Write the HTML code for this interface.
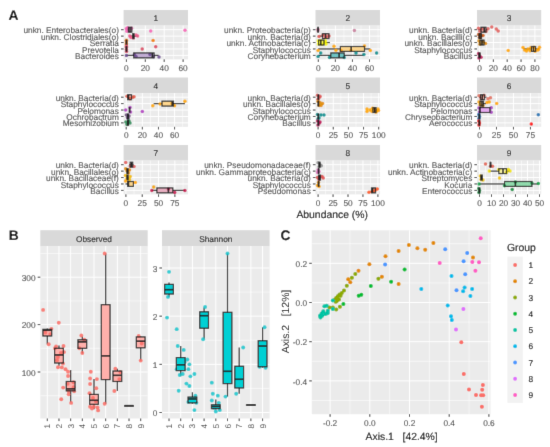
<!DOCTYPE html><html><head><meta charset="utf-8"><style>html,body{margin:0;padding:0;background:#fff;width:550px;height:447px;overflow:hidden}svg{display:block;will-change:transform}text{font-family:"Liberation Sans",sans-serif;text-rendering:geometricPrecision}</style></head><body>
<svg width="550" height="447" viewBox="0 0 550 447"><defs><filter id="soft" x="0" y="0" width="550" height="447" filterUnits="userSpaceOnUse"><feConvolveMatrix order="3" kernelMatrix="0 1 0 1 8 1 0 1 0" divisor="12" edgeMode="duplicate"/></filter></defs><g filter="url(#soft)">
<rect x="0" y="0" width="550" height="447" fill="#FFFFFF" />
<text x="8.6" y="19.6" font-size="13.8" fill="#000000" stroke="#000000" stroke-width="0.12" text-anchor="start" font-weight="bold" >A</text>
<rect x="123.6" y="10" width="64.4" height="15.6" fill="#D9D9D9" />
<text x="155.8" y="21.4" font-size="8.3" fill="#1A1A1A" stroke="#1A1A1A" stroke-width="0.12" text-anchor="middle" font-weight="normal" >1</text>
<rect x="123.6" y="25.6" width="64.4" height="33.75" fill="#EBEBEB" />
<line x1="135.85" y1="25.6" x2="135.85" y2="59.35" stroke="#FFFFFF" stroke-width="0.55" />
<line x1="154.75" y1="25.6" x2="154.75" y2="59.35" stroke="#FFFFFF" stroke-width="0.55" />
<line x1="173.65" y1="25.6" x2="173.65" y2="59.35" stroke="#FFFFFF" stroke-width="0.55" />
<line x1="123.6" y1="29.7" x2="188" y2="29.7" stroke="#FFFFFF" stroke-width="1.0" />
<line x1="123.6" y1="36.12" x2="188" y2="36.12" stroke="#FFFFFF" stroke-width="1.0" />
<line x1="123.6" y1="42.54" x2="188" y2="42.54" stroke="#FFFFFF" stroke-width="1.0" />
<line x1="123.6" y1="48.96" x2="188" y2="48.96" stroke="#FFFFFF" stroke-width="1.0" />
<line x1="123.6" y1="55.38" x2="188" y2="55.38" stroke="#FFFFFF" stroke-width="1.0" />
<line x1="126.4" y1="25.6" x2="126.4" y2="59.35" stroke="#FFFFFF" stroke-width="1.0" />
<line x1="145.3" y1="25.6" x2="145.3" y2="59.35" stroke="#FFFFFF" stroke-width="1.0" />
<line x1="164.2" y1="25.6" x2="164.2" y2="59.35" stroke="#FFFFFF" stroke-width="1.0" />
<line x1="183.1" y1="25.6" x2="183.1" y2="59.35" stroke="#FFFFFF" stroke-width="1.0" />
<line x1="126.4" y1="59.35" x2="126.4" y2="61.95" stroke="#333333" stroke-width="1.0" />
<text x="126.4" y="70.7" font-size="8.3" fill="#4D4D4D" stroke="#4D4D4D" stroke-width="0.12" text-anchor="middle" font-weight="normal" >0</text>
<line x1="145.3" y1="59.35" x2="145.3" y2="61.95" stroke="#333333" stroke-width="1.0" />
<text x="145.3" y="70.7" font-size="8.3" fill="#4D4D4D" stroke="#4D4D4D" stroke-width="0.12" text-anchor="middle" font-weight="normal" >20</text>
<line x1="164.2" y1="59.35" x2="164.2" y2="61.95" stroke="#333333" stroke-width="1.0" />
<text x="164.2" y="70.7" font-size="8.3" fill="#4D4D4D" stroke="#4D4D4D" stroke-width="0.12" text-anchor="middle" font-weight="normal" >40</text>
<line x1="183.1" y1="59.35" x2="183.1" y2="61.95" stroke="#333333" stroke-width="1.0" />
<text x="183.1" y="70.7" font-size="8.3" fill="#4D4D4D" stroke="#4D4D4D" stroke-width="0.12" text-anchor="middle" font-weight="normal" >60</text>
<line x1="121" y1="29.7" x2="123.6" y2="29.7" stroke="#333333" stroke-width="1.0" />
<text x="118.9" y="33.3" font-size="8.3" fill="#4D4D4D" stroke="#4D4D4D" stroke-width="0.12" text-anchor="end" font-weight="normal" >unkn. Enterobacterales(o)</text>
<line x1="121" y1="36.12" x2="123.6" y2="36.12" stroke="#333333" stroke-width="1.0" />
<text x="118.9" y="39.72" font-size="8.3" fill="#4D4D4D" stroke="#4D4D4D" stroke-width="0.12" text-anchor="end" font-weight="normal" >unkn. Clostridiales(o)</text>
<line x1="121" y1="42.54" x2="123.6" y2="42.54" stroke="#333333" stroke-width="1.0" />
<text x="118.9" y="46.14" font-size="8.3" fill="#4D4D4D" stroke="#4D4D4D" stroke-width="0.12" text-anchor="end" font-weight="normal" >Serratia</text>
<line x1="121" y1="48.96" x2="123.6" y2="48.96" stroke="#333333" stroke-width="1.0" />
<text x="118.9" y="52.56" font-size="8.3" fill="#4D4D4D" stroke="#4D4D4D" stroke-width="0.12" text-anchor="end" font-weight="normal" >Prevotella</text>
<line x1="121" y1="55.38" x2="123.6" y2="55.38" stroke="#333333" stroke-width="1.0" />
<text x="118.9" y="58.98" font-size="8.3" fill="#4D4D4D" stroke="#4D4D4D" stroke-width="0.12" text-anchor="end" font-weight="normal" >Bacteroides</text>
<line x1="127.5" y1="29.7" x2="128.4" y2="29.7" stroke="#333333" stroke-width="1.2" />
<line x1="131.8" y1="29.7" x2="132.2" y2="29.7" stroke="#333333" stroke-width="1.2" />
<rect x="128.4" y="27.25" width="3.4" height="4.9" fill="#F0A0CC" fill-opacity="0.7"/>
<circle cx="126.3" cy="28.7" r="1.75" fill="#F563B5" fill-opacity="0.88"/>
<circle cx="126.8" cy="31.2" r="1.75" fill="#F563B5" fill-opacity="0.88"/>
<circle cx="127.5" cy="27.7" r="1.75" fill="#F563B5" fill-opacity="0.88"/>
<circle cx="131.5" cy="28.2" r="1.75" fill="#F563B5" fill-opacity="0.88"/>
<circle cx="150.7" cy="31" r="1.75" fill="#F563B5" fill-opacity="0.88"/>
<circle cx="185" cy="30.2" r="1.75" fill="#F563B5" fill-opacity="0.88"/>
<rect x="128.4" y="27.25" width="3.4" height="4.9" fill="none" stroke="#262626" stroke-opacity="0.95" stroke-width="1.2"/>
<line x1="130" y1="27.25" x2="130" y2="32.15" stroke="#222222" stroke-width="1.5" />
<line x1="129.5" y1="36.12" x2="132.8" y2="36.12" stroke="#333333" stroke-width="1.2" />
<line x1="134" y1="36.12" x2="138" y2="36.12" stroke="#333333" stroke-width="1.2" />
<rect x="132.8" y="33.67" width="1.2" height="4.9" fill="#EE8FAF" fill-opacity="0.7"/>
<circle cx="129.8" cy="36.12" r="1.75" fill="#EE5C8A" fill-opacity="0.88"/>
<circle cx="131" cy="37.62" r="1.75" fill="#EE5C8A" fill-opacity="0.88"/>
<circle cx="133.4" cy="38.12" r="1.75" fill="#EE5C8A" fill-opacity="0.88"/>
<circle cx="137.6" cy="36.12" r="1.75" fill="#EE5C8A" fill-opacity="0.88"/>
<circle cx="136" cy="35.12" r="1.75" fill="#EE5C8A" fill-opacity="0.88"/>
<rect x="132.8" y="33.67" width="1.2" height="4.9" fill="none" stroke="#262626" stroke-opacity="0.95" stroke-width="1.2"/>
<line x1="133.4" y1="33.67" x2="133.4" y2="38.57" stroke="#222222" stroke-width="1.5" />
<line x1="126.4" y1="42.54" x2="126.4" y2="42.54" stroke="#333333" stroke-width="1.2" />
<line x1="126.4" y1="42.54" x2="126.4" y2="42.54" stroke="#333333" stroke-width="1.2" />
<rect x="126.4" y="40.09" width="0.3" height="4.9" fill="#F5A040" fill-opacity="0.7"/>
<circle cx="126.4" cy="40.34" r="1.75" fill="#F07B00" fill-opacity="0.88"/>
<circle cx="126.4" cy="42.04" r="1.75" fill="#F07B00" fill-opacity="0.88"/>
<circle cx="126.4" cy="43.74" r="1.75" fill="#F07B00" fill-opacity="0.88"/>
<circle cx="126.4" cy="45.04" r="1.75" fill="#F07B00" fill-opacity="0.88"/>
<circle cx="153.1" cy="40.54" r="1.75" fill="#F07B00" fill-opacity="0.88"/>
<rect x="126.4" y="40.09" width="0.3" height="4.9" fill="none" stroke="#262626" stroke-opacity="0.95" stroke-width="1.2"/>
<line x1="126.4" y1="40.09" x2="126.4" y2="44.99" stroke="#222222" stroke-width="1.5" />
<line x1="126.4" y1="48.96" x2="126.4" y2="48.96" stroke="#333333" stroke-width="1.2" />
<line x1="126.4" y1="48.96" x2="126.4" y2="48.96" stroke="#333333" stroke-width="1.2" />
<rect x="126.4" y="46.51" width="0.3" height="4.9" fill="#E38090" fill-opacity="0.7"/>
<circle cx="126.4" cy="46.16" r="1.75" fill="#EE5C8A" fill-opacity="0.88"/>
<circle cx="126.4" cy="47.46" r="1.75" fill="#D9455F" fill-opacity="0.88"/>
<circle cx="126.4" cy="49.46" r="1.75" fill="#D9455F" fill-opacity="0.88"/>
<circle cx="126.5" cy="51.46" r="1.75" fill="#D9455F" fill-opacity="0.88"/>
<circle cx="142.2" cy="48.96" r="1.75" fill="#D9455F" fill-opacity="0.88"/>
<circle cx="155.7" cy="46.76" r="1.75" fill="#D9455F" fill-opacity="0.88"/>
<rect x="126.4" y="46.51" width="0.3" height="4.9" fill="none" stroke="#262626" stroke-opacity="0.95" stroke-width="1.2"/>
<line x1="126.4" y1="46.51" x2="126.4" y2="51.41" stroke="#222222" stroke-width="1.5" />
<line x1="126.4" y1="55.38" x2="133.7" y2="55.38" stroke="#333333" stroke-width="1.2" />
<line x1="154.1" y1="55.38" x2="158.6" y2="55.38" stroke="#333333" stroke-width="1.2" />
<rect x="133.7" y="52.93" width="20.4" height="4.9" fill="#A88BC2" fill-opacity="0.7"/>
<circle cx="126.4" cy="55.38" r="1.75" fill="#6B4A91" fill-opacity="0.88"/>
<circle cx="134.3" cy="54.58" r="1.75" fill="#6B4A91" fill-opacity="0.88"/>
<circle cx="136" cy="56.58" r="1.75" fill="#6B4A91" fill-opacity="0.88"/>
<circle cx="150" cy="54.38" r="1.75" fill="#6B4A91" fill-opacity="0.88"/>
<circle cx="153.5" cy="56.68" r="1.75" fill="#6B4A91" fill-opacity="0.88"/>
<circle cx="159" cy="56.88" r="1.75" fill="#6B4A91" fill-opacity="0.88"/>
<rect x="133.7" y="52.93" width="20.4" height="4.9" fill="none" stroke="#262626" stroke-opacity="0.95" stroke-width="1.2"/>
<line x1="152.3" y1="52.93" x2="152.3" y2="57.83" stroke="#222222" stroke-width="1.5" />
<rect x="315.5" y="10" width="64.5" height="15.6" fill="#D9D9D9" />
<text x="347.75" y="21.4" font-size="8.3" fill="#1A1A1A" stroke="#1A1A1A" stroke-width="0.12" text-anchor="middle" font-weight="normal" >2</text>
<rect x="315.5" y="25.6" width="64.5" height="33.75" fill="#EBEBEB" />
<line x1="326.84" y1="25.6" x2="326.84" y2="59.35" stroke="#FFFFFF" stroke-width="0.55" />
<line x1="343.91" y1="25.6" x2="343.91" y2="59.35" stroke="#FFFFFF" stroke-width="0.55" />
<line x1="360.98" y1="25.6" x2="360.98" y2="59.35" stroke="#FFFFFF" stroke-width="0.55" />
<line x1="378.05" y1="25.6" x2="378.05" y2="59.35" stroke="#FFFFFF" stroke-width="0.55" />
<line x1="315.5" y1="29.7" x2="380" y2="29.7" stroke="#FFFFFF" stroke-width="1.0" />
<line x1="315.5" y1="36.12" x2="380" y2="36.12" stroke="#FFFFFF" stroke-width="1.0" />
<line x1="315.5" y1="42.54" x2="380" y2="42.54" stroke="#FFFFFF" stroke-width="1.0" />
<line x1="315.5" y1="48.96" x2="380" y2="48.96" stroke="#FFFFFF" stroke-width="1.0" />
<line x1="315.5" y1="55.38" x2="380" y2="55.38" stroke="#FFFFFF" stroke-width="1.0" />
<line x1="318.3" y1="25.6" x2="318.3" y2="59.35" stroke="#FFFFFF" stroke-width="1.0" />
<line x1="335.37" y1="25.6" x2="335.37" y2="59.35" stroke="#FFFFFF" stroke-width="1.0" />
<line x1="352.44" y1="25.6" x2="352.44" y2="59.35" stroke="#FFFFFF" stroke-width="1.0" />
<line x1="369.51" y1="25.6" x2="369.51" y2="59.35" stroke="#FFFFFF" stroke-width="1.0" />
<line x1="318.3" y1="59.35" x2="318.3" y2="61.95" stroke="#333333" stroke-width="1.0" />
<text x="318.3" y="70.7" font-size="8.3" fill="#4D4D4D" stroke="#4D4D4D" stroke-width="0.12" text-anchor="middle" font-weight="normal" >0</text>
<line x1="335.37" y1="59.35" x2="335.37" y2="61.95" stroke="#333333" stroke-width="1.0" />
<text x="335.37" y="70.7" font-size="8.3" fill="#4D4D4D" stroke="#4D4D4D" stroke-width="0.12" text-anchor="middle" font-weight="normal" >20</text>
<line x1="352.44" y1="59.35" x2="352.44" y2="61.95" stroke="#333333" stroke-width="1.0" />
<text x="352.44" y="70.7" font-size="8.3" fill="#4D4D4D" stroke="#4D4D4D" stroke-width="0.12" text-anchor="middle" font-weight="normal" >40</text>
<line x1="369.51" y1="59.35" x2="369.51" y2="61.95" stroke="#333333" stroke-width="1.0" />
<text x="369.51" y="70.7" font-size="8.3" fill="#4D4D4D" stroke="#4D4D4D" stroke-width="0.12" text-anchor="middle" font-weight="normal" >60</text>
<line x1="312.9" y1="29.7" x2="315.5" y2="29.7" stroke="#333333" stroke-width="1.0" />
<text x="310.8" y="33.3" font-size="8.3" fill="#4D4D4D" stroke="#4D4D4D" stroke-width="0.12" text-anchor="end" font-weight="normal" >unkn. Proteobacteria(p)</text>
<line x1="312.9" y1="36.12" x2="315.5" y2="36.12" stroke="#333333" stroke-width="1.0" />
<text x="310.8" y="39.72" font-size="8.3" fill="#4D4D4D" stroke="#4D4D4D" stroke-width="0.12" text-anchor="end" font-weight="normal" >unkn. Bacteria(d)</text>
<line x1="312.9" y1="42.54" x2="315.5" y2="42.54" stroke="#333333" stroke-width="1.0" />
<text x="310.8" y="46.14" font-size="8.3" fill="#4D4D4D" stroke="#4D4D4D" stroke-width="0.12" text-anchor="end" font-weight="normal" >unkn. Actinobacteria(c)</text>
<line x1="312.9" y1="48.96" x2="315.5" y2="48.96" stroke="#333333" stroke-width="1.0" />
<text x="310.8" y="52.56" font-size="8.3" fill="#4D4D4D" stroke="#4D4D4D" stroke-width="0.12" text-anchor="end" font-weight="normal" >Staphylococcus</text>
<line x1="312.9" y1="55.38" x2="315.5" y2="55.38" stroke="#333333" stroke-width="1.0" />
<text x="310.8" y="58.98" font-size="8.3" fill="#4D4D4D" stroke="#4D4D4D" stroke-width="0.12" text-anchor="end" font-weight="normal" >Corynebacterium</text>
<line x1="318" y1="29.7" x2="318" y2="29.7" stroke="#333333" stroke-width="1.2" />
<line x1="318" y1="29.7" x2="318" y2="29.7" stroke="#333333" stroke-width="1.2" />
<rect x="318" y="27.25" width="0.3" height="4.9" fill="#D9A8BC" fill-opacity="0.7"/>
<circle cx="318" cy="29.2" r="1.75" fill="#C77D9B" fill-opacity="0.88"/>
<circle cx="318" cy="30.7" r="1.75" fill="#C77D9B" fill-opacity="0.88"/>
<circle cx="354.4" cy="30.4" r="1.75" fill="#C77D9B" fill-opacity="0.88"/>
<rect x="318" y="27.25" width="0.3" height="4.9" fill="none" stroke="#262626" stroke-opacity="0.95" stroke-width="1.2"/>
<line x1="318" y1="27.25" x2="318" y2="32.15" stroke="#222222" stroke-width="1.5" />
<line x1="320" y1="36.12" x2="322.5" y2="36.12" stroke="#333333" stroke-width="1.2" />
<line x1="328.9" y1="36.12" x2="329.5" y2="36.12" stroke="#333333" stroke-width="1.2" />
<rect x="322.5" y="33.67" width="6.4" height="4.9" fill="#E89090" fill-opacity="0.7"/>
<circle cx="319" cy="36.62" r="1.75" fill="#D9534F" fill-opacity="0.88"/>
<circle cx="323" cy="35.12" r="1.75" fill="#D9534F" fill-opacity="0.88"/>
<circle cx="326" cy="37.12" r="1.75" fill="#D9534F" fill-opacity="0.88"/>
<circle cx="329" cy="36.12" r="1.75" fill="#D9534F" fill-opacity="0.88"/>
<rect x="322.5" y="33.67" width="6.4" height="4.9" fill="none" stroke="#262626" stroke-opacity="0.95" stroke-width="1.2"/>
<line x1="325.5" y1="33.67" x2="325.5" y2="38.57" stroke="#222222" stroke-width="1.5" />
<line x1="318.6" y1="42.54" x2="318.6" y2="42.54" stroke="#333333" stroke-width="1.2" />
<line x1="324" y1="42.54" x2="330" y2="42.54" stroke="#333333" stroke-width="1.2" />
<rect x="318.6" y="40.09" width="5.4" height="4.9" fill="#F8F470" fill-opacity="0.7"/>
<circle cx="318.3" cy="41.04" r="1.75" fill="#F2F200" fill-opacity="0.88"/>
<circle cx="318.5" cy="44.04" r="1.75" fill="#F2F200" fill-opacity="0.88"/>
<circle cx="321" cy="40.74" r="1.75" fill="#F2F200" fill-opacity="0.88"/>
<circle cx="322" cy="44.34" r="1.75" fill="#F2F200" fill-opacity="0.88"/>
<circle cx="324.5" cy="42.54" r="1.75" fill="#F2F200" fill-opacity="0.88"/>
<circle cx="326" cy="44.04" r="1.75" fill="#F2F200" fill-opacity="0.88"/>
<circle cx="325.5" cy="41.04" r="1.75" fill="#F2F200" fill-opacity="0.88"/>
<rect x="318.6" y="40.09" width="5.4" height="4.9" fill="none" stroke="#262626" stroke-opacity="0.95" stroke-width="1.2"/>
<line x1="320.8" y1="40.09" x2="320.8" y2="44.99" stroke="#222222" stroke-width="1.5" />
<line x1="318.1" y1="48.96" x2="340.4" y2="48.96" stroke="#333333" stroke-width="1.2" />
<line x1="364.5" y1="48.96" x2="370.3" y2="48.96" stroke="#333333" stroke-width="1.2" />
<rect x="340.4" y="46.51" width="24.1" height="4.9" fill="#FFC862" fill-opacity="0.7"/>
<circle cx="318.1" cy="50.46" r="1.75" fill="#FFA500" fill-opacity="0.88"/>
<circle cx="334" cy="46.16" r="1.75" fill="#FFA500" fill-opacity="0.88"/>
<circle cx="335.9" cy="50.16" r="1.75" fill="#FFA500" fill-opacity="0.88"/>
<circle cx="341" cy="50.46" r="1.75" fill="#FFA500" fill-opacity="0.88"/>
<circle cx="351" cy="50.46" r="1.75" fill="#FFA500" fill-opacity="0.88"/>
<circle cx="364.5" cy="45.96" r="1.75" fill="#FFA500" fill-opacity="0.88"/>
<circle cx="370.3" cy="50.46" r="1.75" fill="#FFA500" fill-opacity="0.88"/>
<rect x="340.4" y="46.51" width="24.1" height="4.9" fill="none" stroke="#262626" stroke-opacity="0.95" stroke-width="1.2"/>
<line x1="351.2" y1="46.51" x2="351.2" y2="51.41" stroke="#222222" stroke-width="1.5" />
<line x1="318.1" y1="55.38" x2="330.8" y2="55.38" stroke="#333333" stroke-width="1.2" />
<line x1="344.2" y1="55.38" x2="363.9" y2="55.38" stroke="#333333" stroke-width="1.2" />
<rect x="330.8" y="52.93" width="13.4" height="4.9" fill="#35ABAB" fill-opacity="0.7"/>
<circle cx="318.1" cy="56.38" r="1.75" fill="#008B8B" fill-opacity="0.88"/>
<circle cx="320.7" cy="52.88" r="1.75" fill="#008B8B" fill-opacity="0.88"/>
<circle cx="329.5" cy="57.58" r="1.75" fill="#008B8B" fill-opacity="0.88"/>
<circle cx="344.2" cy="57.58" r="1.75" fill="#008B8B" fill-opacity="0.88"/>
<circle cx="356" cy="52.88" r="1.75" fill="#008B8B" fill-opacity="0.88"/>
<circle cx="363.9" cy="54.38" r="1.75" fill="#008B8B" fill-opacity="0.88"/>
<circle cx="376.6" cy="52.88" r="1.75" fill="#008B8B" fill-opacity="0.88"/>
<rect x="330.8" y="52.93" width="13.4" height="4.9" fill="none" stroke="#262626" stroke-opacity="0.95" stroke-width="1.2"/>
<line x1="339.1" y1="52.93" x2="339.1" y2="57.83" stroke="#222222" stroke-width="1.5" />
<rect x="477" y="10" width="64.2" height="15.6" fill="#D9D9D9" />
<text x="509.1" y="21.4" font-size="8.3" fill="#1A1A1A" stroke="#1A1A1A" stroke-width="0.12" text-anchor="middle" font-weight="normal" >3</text>
<rect x="477" y="25.6" width="64.2" height="33.75" fill="#EBEBEB" />
<line x1="486.43" y1="25.6" x2="486.43" y2="59.35" stroke="#FFFFFF" stroke-width="0.55" />
<line x1="500.27" y1="25.6" x2="500.27" y2="59.35" stroke="#FFFFFF" stroke-width="0.55" />
<line x1="514.12" y1="25.6" x2="514.12" y2="59.35" stroke="#FFFFFF" stroke-width="0.55" />
<line x1="527.98" y1="25.6" x2="527.98" y2="59.35" stroke="#FFFFFF" stroke-width="0.55" />
<line x1="477" y1="29.7" x2="541.2" y2="29.7" stroke="#FFFFFF" stroke-width="1.0" />
<line x1="477" y1="36.12" x2="541.2" y2="36.12" stroke="#FFFFFF" stroke-width="1.0" />
<line x1="477" y1="42.54" x2="541.2" y2="42.54" stroke="#FFFFFF" stroke-width="1.0" />
<line x1="477" y1="48.96" x2="541.2" y2="48.96" stroke="#FFFFFF" stroke-width="1.0" />
<line x1="477" y1="55.38" x2="541.2" y2="55.38" stroke="#FFFFFF" stroke-width="1.0" />
<line x1="479.5" y1="25.6" x2="479.5" y2="59.35" stroke="#FFFFFF" stroke-width="1.0" />
<line x1="493.35" y1="25.6" x2="493.35" y2="59.35" stroke="#FFFFFF" stroke-width="1.0" />
<line x1="507.2" y1="25.6" x2="507.2" y2="59.35" stroke="#FFFFFF" stroke-width="1.0" />
<line x1="521.05" y1="25.6" x2="521.05" y2="59.35" stroke="#FFFFFF" stroke-width="1.0" />
<line x1="534.9" y1="25.6" x2="534.9" y2="59.35" stroke="#FFFFFF" stroke-width="1.0" />
<line x1="479.5" y1="59.35" x2="479.5" y2="61.95" stroke="#333333" stroke-width="1.0" />
<text x="479.5" y="70.7" font-size="8.3" fill="#4D4D4D" stroke="#4D4D4D" stroke-width="0.12" text-anchor="middle" font-weight="normal" >0</text>
<line x1="493.35" y1="59.35" x2="493.35" y2="61.95" stroke="#333333" stroke-width="1.0" />
<text x="493.35" y="70.7" font-size="8.3" fill="#4D4D4D" stroke="#4D4D4D" stroke-width="0.12" text-anchor="middle" font-weight="normal" >20</text>
<line x1="507.2" y1="59.35" x2="507.2" y2="61.95" stroke="#333333" stroke-width="1.0" />
<text x="507.2" y="70.7" font-size="8.3" fill="#4D4D4D" stroke="#4D4D4D" stroke-width="0.12" text-anchor="middle" font-weight="normal" >40</text>
<line x1="521.05" y1="59.35" x2="521.05" y2="61.95" stroke="#333333" stroke-width="1.0" />
<text x="521.05" y="70.7" font-size="8.3" fill="#4D4D4D" stroke="#4D4D4D" stroke-width="0.12" text-anchor="middle" font-weight="normal" >60</text>
<line x1="534.9" y1="59.35" x2="534.9" y2="61.95" stroke="#333333" stroke-width="1.0" />
<text x="534.9" y="70.7" font-size="8.3" fill="#4D4D4D" stroke="#4D4D4D" stroke-width="0.12" text-anchor="middle" font-weight="normal" >80</text>
<line x1="474.4" y1="29.7" x2="477" y2="29.7" stroke="#333333" stroke-width="1.0" />
<text x="472.3" y="33.3" font-size="8.3" fill="#4D4D4D" stroke="#4D4D4D" stroke-width="0.12" text-anchor="end" font-weight="normal" >unkn. Bacteria(d)</text>
<line x1="474.4" y1="36.12" x2="477" y2="36.12" stroke="#333333" stroke-width="1.0" />
<text x="472.3" y="39.72" font-size="8.3" fill="#4D4D4D" stroke="#4D4D4D" stroke-width="0.12" text-anchor="end" font-weight="normal" >unkn. Bacilli(c)</text>
<line x1="474.4" y1="42.54" x2="477" y2="42.54" stroke="#333333" stroke-width="1.0" />
<text x="472.3" y="46.14" font-size="8.3" fill="#4D4D4D" stroke="#4D4D4D" stroke-width="0.12" text-anchor="end" font-weight="normal" >unkn. Bacillales(o)</text>
<line x1="474.4" y1="48.96" x2="477" y2="48.96" stroke="#333333" stroke-width="1.0" />
<text x="472.3" y="52.56" font-size="8.3" fill="#4D4D4D" stroke="#4D4D4D" stroke-width="0.12" text-anchor="end" font-weight="normal" >Staphylococcus</text>
<line x1="474.4" y1="55.38" x2="477" y2="55.38" stroke="#333333" stroke-width="1.0" />
<text x="472.3" y="58.98" font-size="8.3" fill="#4D4D4D" stroke="#4D4D4D" stroke-width="0.12" text-anchor="end" font-weight="normal" >Bacillus</text>
<line x1="478" y1="29.7" x2="481" y2="29.7" stroke="#333333" stroke-width="1.2" />
<line x1="486" y1="29.7" x2="488" y2="29.7" stroke="#333333" stroke-width="1.2" />
<rect x="481" y="27.25" width="5" height="4.9" fill="#E89A96" fill-opacity="0.7"/>
<circle cx="478.5" cy="28.2" r="1.75" fill="#E0605C" fill-opacity="0.88"/>
<circle cx="480" cy="31.2" r="1.75" fill="#E0605C" fill-opacity="0.88"/>
<circle cx="482" cy="28.7" r="1.75" fill="#E0605C" fill-opacity="0.88"/>
<circle cx="486" cy="31.5" r="1.75" fill="#E0605C" fill-opacity="0.88"/>
<circle cx="488" cy="28.7" r="1.75" fill="#E0605C" fill-opacity="0.88"/>
<circle cx="491.8" cy="27.1" r="1.75" fill="#E0605C" fill-opacity="0.88"/>
<circle cx="496.3" cy="28.9" r="1.75" fill="#E0605C" fill-opacity="0.88"/>
<circle cx="498.2" cy="31" r="1.75" fill="#E0605C" fill-opacity="0.88"/>
<rect x="481" y="27.25" width="5" height="4.9" fill="none" stroke="#262626" stroke-opacity="0.95" stroke-width="1.2"/>
<line x1="484.2" y1="27.25" x2="484.2" y2="32.15" stroke="#222222" stroke-width="1.5" />
<line x1="479" y1="36.12" x2="479" y2="36.12" stroke="#333333" stroke-width="1.2" />
<line x1="481.5" y1="36.12" x2="483" y2="36.12" stroke="#333333" stroke-width="1.2" />
<rect x="479" y="33.67" width="2.5" height="4.9" fill="#E08A50" fill-opacity="0.7"/>
<circle cx="478.6" cy="34.62" r="1.75" fill="#CF5B10" fill-opacity="0.88"/>
<circle cx="479.5" cy="37.32" r="1.75" fill="#CF5B10" fill-opacity="0.88"/>
<circle cx="481" cy="36.12" r="1.75" fill="#CF5B10" fill-opacity="0.88"/>
<circle cx="483" cy="35.62" r="1.75" fill="#CF5B10" fill-opacity="0.88"/>
<rect x="479" y="33.67" width="2.5" height="4.9" fill="none" stroke="#262626" stroke-opacity="0.95" stroke-width="1.2"/>
<line x1="480" y1="33.67" x2="480" y2="38.57" stroke="#222222" stroke-width="1.5" />
<line x1="479" y1="42.54" x2="480" y2="42.54" stroke="#333333" stroke-width="1.2" />
<line x1="484" y1="42.54" x2="485.5" y2="42.54" stroke="#333333" stroke-width="1.2" />
<rect x="480" y="40.09" width="4" height="4.9" fill="#EAB060" fill-opacity="0.7"/>
<circle cx="479" cy="41.04" r="1.75" fill="#E08A00" fill-opacity="0.88"/>
<circle cx="480" cy="44.34" r="1.75" fill="#E08A00" fill-opacity="0.88"/>
<circle cx="483" cy="41.54" r="1.75" fill="#E08A00" fill-opacity="0.88"/>
<circle cx="485.5" cy="43.54" r="1.75" fill="#E08A00" fill-opacity="0.88"/>
<rect x="480" y="40.09" width="4" height="4.9" fill="none" stroke="#262626" stroke-opacity="0.95" stroke-width="1.2"/>
<line x1="482" y1="40.09" x2="482" y2="44.99" stroke="#222222" stroke-width="1.5" />
<line x1="523.6" y1="48.96" x2="531.5" y2="48.96" stroke="#333333" stroke-width="1.2" />
<line x1="535.6" y1="48.96" x2="539.5" y2="48.96" stroke="#333333" stroke-width="1.2" />
<rect x="531.5" y="46.51" width="4.1" height="4.9" fill="#FFC862" fill-opacity="0.7"/>
<circle cx="508.2" cy="50.56" r="1.75" fill="#FFA500" fill-opacity="0.88"/>
<circle cx="523" cy="47.46" r="1.75" fill="#FFA500" fill-opacity="0.88"/>
<circle cx="524.5" cy="49.96" r="1.75" fill="#FFA500" fill-opacity="0.88"/>
<circle cx="526.5" cy="50.96" r="1.75" fill="#FFA500" fill-opacity="0.88"/>
<circle cx="528" cy="48.96" r="1.75" fill="#FFA500" fill-opacity="0.88"/>
<circle cx="530" cy="50.76" r="1.75" fill="#FFA500" fill-opacity="0.88"/>
<circle cx="531" cy="47.46" r="1.75" fill="#FFA500" fill-opacity="0.88"/>
<circle cx="534" cy="47.16" r="1.75" fill="#FFA500" fill-opacity="0.88"/>
<circle cx="535" cy="51.16" r="1.75" fill="#FFA500" fill-opacity="0.88"/>
<circle cx="537.6" cy="49.96" r="1.75" fill="#FFA500" fill-opacity="0.88"/>
<circle cx="539.5" cy="47.16" r="1.75" fill="#FFA500" fill-opacity="0.88"/>
<circle cx="538.5" cy="49.46" r="1.75" fill="#FFA500" fill-opacity="0.88"/>
<rect x="531.5" y="46.51" width="4.1" height="4.9" fill="none" stroke="#262626" stroke-opacity="0.95" stroke-width="1.2"/>
<line x1="533.5" y1="46.51" x2="533.5" y2="51.41" stroke="#222222" stroke-width="1.5" />
<line x1="479" y1="55.38" x2="479" y2="55.38" stroke="#333333" stroke-width="1.2" />
<line x1="480" y1="55.38" x2="481" y2="55.38" stroke="#333333" stroke-width="1.2" />
<rect x="479" y="52.93" width="1" height="4.9" fill="#D86090" fill-opacity="0.7"/>
<circle cx="478.6" cy="53.38" r="1.75" fill="#C2185B" fill-opacity="0.88"/>
<circle cx="479.5" cy="55.38" r="1.75" fill="#C2185B" fill-opacity="0.88"/>
<circle cx="481" cy="57.18" r="1.75" fill="#C2185B" fill-opacity="0.88"/>
<circle cx="479" cy="57.88" r="1.75" fill="#C2185B" fill-opacity="0.88"/>
<rect x="479" y="52.93" width="1" height="4.9" fill="none" stroke="#262626" stroke-opacity="0.95" stroke-width="1.2"/>
<line x1="479.5" y1="52.93" x2="479.5" y2="57.83" stroke="#222222" stroke-width="1.5" />
<rect x="123.6" y="77.5" width="64.4" height="15.6" fill="#D9D9D9" />
<text x="155.8" y="88.9" font-size="8.3" fill="#1A1A1A" stroke="#1A1A1A" stroke-width="0.12" text-anchor="middle" font-weight="normal" >4</text>
<rect x="123.6" y="93.1" width="64.4" height="33.75" fill="#EBEBEB" />
<line x1="134.27" y1="93.1" x2="134.27" y2="126.85" stroke="#FFFFFF" stroke-width="0.55" />
<line x1="150.4" y1="93.1" x2="150.4" y2="126.85" stroke="#FFFFFF" stroke-width="0.55" />
<line x1="166.53" y1="93.1" x2="166.53" y2="126.85" stroke="#FFFFFF" stroke-width="0.55" />
<line x1="182.66" y1="93.1" x2="182.66" y2="126.85" stroke="#FFFFFF" stroke-width="0.55" />
<line x1="123.6" y1="97.2" x2="188" y2="97.2" stroke="#FFFFFF" stroke-width="1.0" />
<line x1="123.6" y1="103.62" x2="188" y2="103.62" stroke="#FFFFFF" stroke-width="1.0" />
<line x1="123.6" y1="110.04" x2="188" y2="110.04" stroke="#FFFFFF" stroke-width="1.0" />
<line x1="123.6" y1="116.46" x2="188" y2="116.46" stroke="#FFFFFF" stroke-width="1.0" />
<line x1="123.6" y1="122.88" x2="188" y2="122.88" stroke="#FFFFFF" stroke-width="1.0" />
<line x1="126.2" y1="93.1" x2="126.2" y2="126.85" stroke="#FFFFFF" stroke-width="1.0" />
<line x1="142.33" y1="93.1" x2="142.33" y2="126.85" stroke="#FFFFFF" stroke-width="1.0" />
<line x1="158.46" y1="93.1" x2="158.46" y2="126.85" stroke="#FFFFFF" stroke-width="1.0" />
<line x1="174.59" y1="93.1" x2="174.59" y2="126.85" stroke="#FFFFFF" stroke-width="1.0" />
<line x1="126.2" y1="126.85" x2="126.2" y2="129.45" stroke="#333333" stroke-width="1.0" />
<text x="126.2" y="138.2" font-size="8.3" fill="#4D4D4D" stroke="#4D4D4D" stroke-width="0.12" text-anchor="middle" font-weight="normal" >0</text>
<line x1="142.33" y1="126.85" x2="142.33" y2="129.45" stroke="#333333" stroke-width="1.0" />
<text x="142.33" y="138.2" font-size="8.3" fill="#4D4D4D" stroke="#4D4D4D" stroke-width="0.12" text-anchor="middle" font-weight="normal" >20</text>
<line x1="158.46" y1="126.85" x2="158.46" y2="129.45" stroke="#333333" stroke-width="1.0" />
<text x="158.46" y="138.2" font-size="8.3" fill="#4D4D4D" stroke="#4D4D4D" stroke-width="0.12" text-anchor="middle" font-weight="normal" >40</text>
<line x1="174.59" y1="126.85" x2="174.59" y2="129.45" stroke="#333333" stroke-width="1.0" />
<text x="174.59" y="138.2" font-size="8.3" fill="#4D4D4D" stroke="#4D4D4D" stroke-width="0.12" text-anchor="middle" font-weight="normal" >60</text>
<line x1="121" y1="97.2" x2="123.6" y2="97.2" stroke="#333333" stroke-width="1.0" />
<text x="118.9" y="100.8" font-size="8.3" fill="#4D4D4D" stroke="#4D4D4D" stroke-width="0.12" text-anchor="end" font-weight="normal" >unkn. Bacteria(d)</text>
<line x1="121" y1="103.62" x2="123.6" y2="103.62" stroke="#333333" stroke-width="1.0" />
<text x="118.9" y="107.22" font-size="8.3" fill="#4D4D4D" stroke="#4D4D4D" stroke-width="0.12" text-anchor="end" font-weight="normal" >Staphylococcus</text>
<line x1="121" y1="110.04" x2="123.6" y2="110.04" stroke="#333333" stroke-width="1.0" />
<text x="118.9" y="113.64" font-size="8.3" fill="#4D4D4D" stroke="#4D4D4D" stroke-width="0.12" text-anchor="end" font-weight="normal" >Pelomonas</text>
<line x1="121" y1="116.46" x2="123.6" y2="116.46" stroke="#333333" stroke-width="1.0" />
<text x="118.9" y="120.06" font-size="8.3" fill="#4D4D4D" stroke="#4D4D4D" stroke-width="0.12" text-anchor="end" font-weight="normal" >Ochrobactrum</text>
<line x1="121" y1="122.88" x2="123.6" y2="122.88" stroke="#333333" stroke-width="1.0" />
<text x="118.9" y="126.48" font-size="8.3" fill="#4D4D4D" stroke="#4D4D4D" stroke-width="0.12" text-anchor="end" font-weight="normal" >Mesorhizobium</text>
<line x1="127.6" y1="97.2" x2="127.6" y2="97.2" stroke="#333333" stroke-width="1.2" />
<line x1="131.5" y1="97.2" x2="131.5" y2="97.2" stroke="#333333" stroke-width="1.2" />
<rect x="127.6" y="94.75" width="3.9" height="4.9" fill="#E89080" fill-opacity="0.7"/>
<circle cx="127" cy="96.2" r="1.75" fill="#E05A47" fill-opacity="0.88"/>
<circle cx="130" cy="98.7" r="1.75" fill="#E05A47" fill-opacity="0.88"/>
<circle cx="132.7" cy="97.2" r="1.75" fill="#E05A47" fill-opacity="0.88"/>
<circle cx="134" cy="96.7" r="1.75" fill="#E05A47" fill-opacity="0.88"/>
<rect x="127.6" y="94.75" width="3.9" height="4.9" fill="none" stroke="#262626" stroke-opacity="0.95" stroke-width="1.2"/>
<line x1="128.5" y1="94.75" x2="128.5" y2="99.65" stroke="#222222" stroke-width="1.5" />
<line x1="153.7" y1="103.62" x2="162" y2="103.62" stroke="#333333" stroke-width="1.2" />
<line x1="173.5" y1="103.62" x2="184.9" y2="103.62" stroke="#333333" stroke-width="1.2" />
<rect x="162" y="101.17" width="11.5" height="4.9" fill="#FFC862" fill-opacity="0.7"/>
<circle cx="152.8" cy="105.82" r="1.75" fill="#FFA500" fill-opacity="0.88"/>
<circle cx="160" cy="104.12" r="1.75" fill="#FFA500" fill-opacity="0.88"/>
<circle cx="172" cy="103.62" r="1.75" fill="#FFA500" fill-opacity="0.88"/>
<circle cx="174.5" cy="105.82" r="1.75" fill="#FFA500" fill-opacity="0.88"/>
<circle cx="184.9" cy="101.32" r="1.75" fill="#FFA500" fill-opacity="0.88"/>
<rect x="162" y="101.17" width="11.5" height="4.9" fill="none" stroke="#262626" stroke-opacity="0.95" stroke-width="1.2"/>
<line x1="172.2" y1="101.17" x2="172.2" y2="106.07" stroke="#222222" stroke-width="1.5" />
<line x1="129.5" y1="110.04" x2="129.5" y2="110.04" stroke="#333333" stroke-width="1.2" />
<line x1="129.5" y1="110.04" x2="129.5" y2="110.04" stroke="#333333" stroke-width="1.2" />
<rect x="129.5" y="107.59" width="0.3" height="4.9" fill="#D080E0" fill-opacity="0.7"/>
<circle cx="125.7" cy="110.04" r="1.75" fill="#B03CC0" fill-opacity="0.88"/>
<circle cx="130" cy="107.54" r="1.75" fill="#B03CC0" fill-opacity="0.88"/>
<circle cx="130.5" cy="112.04" r="1.75" fill="#B03CC0" fill-opacity="0.88"/>
<circle cx="142.3" cy="111.54" r="1.75" fill="#B03CC0" fill-opacity="0.88"/>
<rect x="129.5" y="107.59" width="0.3" height="4.9" fill="none" stroke="#262626" stroke-opacity="0.95" stroke-width="1.2"/>
<line x1="129.5" y1="107.59" x2="129.5" y2="112.49" stroke="#222222" stroke-width="1.5" />
<line x1="127.5" y1="116.46" x2="127.5" y2="116.46" stroke="#333333" stroke-width="1.2" />
<line x1="128.5" y1="116.46" x2="128.5" y2="116.46" stroke="#333333" stroke-width="1.2" />
<rect x="127.5" y="114.01" width="1" height="4.9" fill="#9A80A8" fill-opacity="0.7"/>
<circle cx="126.4" cy="114.96" r="1.75" fill="#6B4C7A" fill-opacity="0.88"/>
<circle cx="127.5" cy="117.46" r="1.75" fill="#6B4C7A" fill-opacity="0.88"/>
<circle cx="129" cy="115.96" r="1.75" fill="#6B4C7A" fill-opacity="0.88"/>
<circle cx="128" cy="118.46" r="1.75" fill="#6B4C7A" fill-opacity="0.88"/>
<rect x="127.5" y="114.01" width="1" height="4.9" fill="none" stroke="#262626" stroke-opacity="0.95" stroke-width="1.2"/>
<line x1="128" y1="114.01" x2="128" y2="118.91" stroke="#222222" stroke-width="1.5" />
<line x1="127.5" y1="122.88" x2="127.5" y2="122.88" stroke="#333333" stroke-width="1.2" />
<line x1="128.5" y1="122.88" x2="128.5" y2="122.88" stroke="#333333" stroke-width="1.2" />
<rect x="127.5" y="120.43" width="1" height="4.9" fill="#70B090" fill-opacity="0.7"/>
<circle cx="125.9" cy="121.88" r="1.75" fill="#2E8B57" fill-opacity="0.88"/>
<circle cx="127" cy="124.38" r="1.75" fill="#2E8B57" fill-opacity="0.88"/>
<circle cx="130" cy="122.88" r="1.75" fill="#2E8B57" fill-opacity="0.88"/>
<circle cx="129" cy="121.08" r="1.75" fill="#2E8B57" fill-opacity="0.88"/>
<rect x="127.5" y="120.43" width="1" height="4.9" fill="none" stroke="#262626" stroke-opacity="0.95" stroke-width="1.2"/>
<line x1="128" y1="120.43" x2="128" y2="125.33" stroke="#222222" stroke-width="1.5" />
<rect x="315.5" y="77.5" width="64.5" height="15.6" fill="#D9D9D9" />
<text x="347.75" y="88.9" font-size="8.3" fill="#1A1A1A" stroke="#1A1A1A" stroke-width="0.12" text-anchor="middle" font-weight="normal" >5</text>
<rect x="315.5" y="93.1" width="64.5" height="33.75" fill="#EBEBEB" />
<line x1="325.68" y1="93.1" x2="325.68" y2="126.85" stroke="#FFFFFF" stroke-width="0.55" />
<line x1="340.83" y1="93.1" x2="340.83" y2="126.85" stroke="#FFFFFF" stroke-width="0.55" />
<line x1="355.98" y1="93.1" x2="355.98" y2="126.85" stroke="#FFFFFF" stroke-width="0.55" />
<line x1="371.12" y1="93.1" x2="371.12" y2="126.85" stroke="#FFFFFF" stroke-width="0.55" />
<line x1="315.5" y1="97.2" x2="380" y2="97.2" stroke="#FFFFFF" stroke-width="1.0" />
<line x1="315.5" y1="103.62" x2="380" y2="103.62" stroke="#FFFFFF" stroke-width="1.0" />
<line x1="315.5" y1="110.04" x2="380" y2="110.04" stroke="#FFFFFF" stroke-width="1.0" />
<line x1="315.5" y1="116.46" x2="380" y2="116.46" stroke="#FFFFFF" stroke-width="1.0" />
<line x1="315.5" y1="122.88" x2="380" y2="122.88" stroke="#FFFFFF" stroke-width="1.0" />
<line x1="318.1" y1="93.1" x2="318.1" y2="126.85" stroke="#FFFFFF" stroke-width="1.0" />
<line x1="333.25" y1="93.1" x2="333.25" y2="126.85" stroke="#FFFFFF" stroke-width="1.0" />
<line x1="348.4" y1="93.1" x2="348.4" y2="126.85" stroke="#FFFFFF" stroke-width="1.0" />
<line x1="363.55" y1="93.1" x2="363.55" y2="126.85" stroke="#FFFFFF" stroke-width="1.0" />
<line x1="378.7" y1="93.1" x2="378.7" y2="126.85" stroke="#FFFFFF" stroke-width="1.0" />
<line x1="318.1" y1="126.85" x2="318.1" y2="129.45" stroke="#333333" stroke-width="1.0" />
<text x="318.1" y="138.2" font-size="8.3" fill="#4D4D4D" stroke="#4D4D4D" stroke-width="0.12" text-anchor="middle" font-weight="normal" >0</text>
<line x1="333.25" y1="126.85" x2="333.25" y2="129.45" stroke="#333333" stroke-width="1.0" />
<text x="333.25" y="138.2" font-size="8.3" fill="#4D4D4D" stroke="#4D4D4D" stroke-width="0.12" text-anchor="middle" font-weight="normal" >25</text>
<line x1="348.4" y1="126.85" x2="348.4" y2="129.45" stroke="#333333" stroke-width="1.0" />
<text x="348.4" y="138.2" font-size="8.3" fill="#4D4D4D" stroke="#4D4D4D" stroke-width="0.12" text-anchor="middle" font-weight="normal" >50</text>
<line x1="363.55" y1="126.85" x2="363.55" y2="129.45" stroke="#333333" stroke-width="1.0" />
<text x="363.55" y="138.2" font-size="8.3" fill="#4D4D4D" stroke="#4D4D4D" stroke-width="0.12" text-anchor="middle" font-weight="normal" >75</text>
<line x1="378.7" y1="126.85" x2="378.7" y2="129.45" stroke="#333333" stroke-width="1.0" />
<text x="378.7" y="138.2" font-size="8.3" fill="#4D4D4D" stroke="#4D4D4D" stroke-width="0.12" text-anchor="middle" font-weight="normal" >100</text>
<line x1="312.9" y1="97.2" x2="315.5" y2="97.2" stroke="#333333" stroke-width="1.0" />
<text x="310.8" y="100.8" font-size="8.3" fill="#4D4D4D" stroke="#4D4D4D" stroke-width="0.12" text-anchor="end" font-weight="normal" >unkn. Bacteria(d)</text>
<line x1="312.9" y1="103.62" x2="315.5" y2="103.62" stroke="#333333" stroke-width="1.0" />
<text x="310.8" y="107.22" font-size="8.3" fill="#4D4D4D" stroke="#4D4D4D" stroke-width="0.12" text-anchor="end" font-weight="normal" >unkn. Bacillales(o)</text>
<line x1="312.9" y1="110.04" x2="315.5" y2="110.04" stroke="#333333" stroke-width="1.0" />
<text x="310.8" y="113.64" font-size="8.3" fill="#4D4D4D" stroke="#4D4D4D" stroke-width="0.12" text-anchor="end" font-weight="normal" >Staphylococcus</text>
<line x1="312.9" y1="116.46" x2="315.5" y2="116.46" stroke="#333333" stroke-width="1.0" />
<text x="310.8" y="120.06" font-size="8.3" fill="#4D4D4D" stroke="#4D4D4D" stroke-width="0.12" text-anchor="end" font-weight="normal" >Corynebacterium</text>
<line x1="312.9" y1="122.88" x2="315.5" y2="122.88" stroke="#333333" stroke-width="1.0" />
<text x="310.8" y="126.48" font-size="8.3" fill="#4D4D4D" stroke="#4D4D4D" stroke-width="0.12" text-anchor="end" font-weight="normal" >Bacillus</text>
<line x1="318.3" y1="97.2" x2="318.3" y2="97.2" stroke="#333333" stroke-width="1.2" />
<line x1="318.3" y1="97.2" x2="318.3" y2="97.2" stroke="#333333" stroke-width="1.2" />
<rect x="318.3" y="94.75" width="0.3" height="4.9" fill="#E89090" fill-opacity="0.7"/>
<circle cx="317.5" cy="95.2" r="1.75" fill="#E05A5A" fill-opacity="0.88"/>
<circle cx="319.5" cy="97.2" r="1.75" fill="#E05A5A" fill-opacity="0.88"/>
<circle cx="318" cy="99.2" r="1.75" fill="#E05A5A" fill-opacity="0.88"/>
<circle cx="320" cy="96.2" r="1.75" fill="#E05A5A" fill-opacity="0.88"/>
<rect x="318.3" y="94.75" width="0.3" height="4.9" fill="none" stroke="#262626" stroke-opacity="0.95" stroke-width="1.2"/>
<line x1="318.3" y1="94.75" x2="318.3" y2="99.65" stroke="#222222" stroke-width="1.5" />
<line x1="318.3" y1="103.62" x2="318.3" y2="103.62" stroke="#333333" stroke-width="1.2" />
<line x1="318.3" y1="103.62" x2="318.3" y2="103.62" stroke="#333333" stroke-width="1.2" />
<rect x="318.3" y="101.17" width="0.3" height="4.9" fill="#EAB060" fill-opacity="0.7"/>
<circle cx="318" cy="101.62" r="1.75" fill="#E08A00" fill-opacity="0.88"/>
<circle cx="320" cy="102.62" r="1.75" fill="#E08A00" fill-opacity="0.88"/>
<circle cx="322.5" cy="103.62" r="1.75" fill="#E08A00" fill-opacity="0.88"/>
<circle cx="319" cy="105.62" r="1.75" fill="#E08A00" fill-opacity="0.88"/>
<circle cx="321" cy="105.42" r="1.75" fill="#E08A00" fill-opacity="0.88"/>
<rect x="318.3" y="101.17" width="0.3" height="4.9" fill="none" stroke="#262626" stroke-opacity="0.95" stroke-width="1.2"/>
<line x1="318.3" y1="101.17" x2="318.3" y2="106.07" stroke="#222222" stroke-width="1.5" />
<line x1="372" y1="110.04" x2="373" y2="110.04" stroke="#333333" stroke-width="1.2" />
<line x1="376" y1="110.04" x2="377" y2="110.04" stroke="#333333" stroke-width="1.2" />
<rect x="373" y="107.59" width="3" height="4.9" fill="#FFC862" fill-opacity="0.7"/>
<circle cx="367" cy="109.04" r="1.75" fill="#FFA500" fill-opacity="0.88"/>
<circle cx="367" cy="111.54" r="1.75" fill="#FFA500" fill-opacity="0.88"/>
<circle cx="370" cy="110.04" r="1.75" fill="#FFA500" fill-opacity="0.88"/>
<circle cx="372" cy="111.54" r="1.75" fill="#FFA500" fill-opacity="0.88"/>
<circle cx="372.5" cy="108.24" r="1.75" fill="#FFA500" fill-opacity="0.88"/>
<circle cx="374" cy="108.54" r="1.75" fill="#FFA500" fill-opacity="0.88"/>
<circle cx="375.5" cy="111.84" r="1.75" fill="#FFA500" fill-opacity="0.88"/>
<circle cx="377" cy="111.04" r="1.75" fill="#FFA500" fill-opacity="0.88"/>
<circle cx="378" cy="109.04" r="1.75" fill="#FFA500" fill-opacity="0.88"/>
<circle cx="376" cy="112.04" r="1.75" fill="#FFA500" fill-opacity="0.88"/>
<circle cx="378.5" cy="110.54" r="1.75" fill="#FFA500" fill-opacity="0.88"/>
<rect x="373" y="107.59" width="3" height="4.9" fill="none" stroke="#262626" stroke-opacity="0.95" stroke-width="1.2"/>
<line x1="374.7" y1="107.59" x2="374.7" y2="112.49" stroke="#222222" stroke-width="1.5" />
<line x1="318.3" y1="116.46" x2="318.3" y2="116.46" stroke="#333333" stroke-width="1.2" />
<line x1="318.3" y1="116.46" x2="318.3" y2="116.46" stroke="#333333" stroke-width="1.2" />
<rect x="318.3" y="114.01" width="0.3" height="4.9" fill="#35ABAB" fill-opacity="0.7"/>
<circle cx="317.5" cy="114.46" r="1.75" fill="#008B8B" fill-opacity="0.88"/>
<circle cx="319" cy="117.96" r="1.75" fill="#008B8B" fill-opacity="0.88"/>
<circle cx="321" cy="114.96" r="1.75" fill="#008B8B" fill-opacity="0.88"/>
<circle cx="324" cy="114.96" r="1.75" fill="#008B8B" fill-opacity="0.88"/>
<circle cx="318" cy="118.96" r="1.75" fill="#008B8B" fill-opacity="0.88"/>
<rect x="318.3" y="114.01" width="0.3" height="4.9" fill="none" stroke="#262626" stroke-opacity="0.95" stroke-width="1.2"/>
<line x1="318.3" y1="114.01" x2="318.3" y2="118.91" stroke="#222222" stroke-width="1.5" />
<line x1="318.3" y1="122.88" x2="318.3" y2="122.88" stroke="#333333" stroke-width="1.2" />
<line x1="318.3" y1="122.88" x2="318.3" y2="122.88" stroke="#333333" stroke-width="1.2" />
<rect x="318.3" y="120.43" width="0.3" height="4.9" fill="#D86090" fill-opacity="0.7"/>
<circle cx="317.5" cy="120.88" r="1.75" fill="#C2185B" fill-opacity="0.88"/>
<circle cx="319.5" cy="122.88" r="1.75" fill="#C2185B" fill-opacity="0.88"/>
<circle cx="318" cy="124.88" r="1.75" fill="#C2185B" fill-opacity="0.88"/>
<circle cx="320" cy="121.88" r="1.75" fill="#C2185B" fill-opacity="0.88"/>
<rect x="318.3" y="120.43" width="0.3" height="4.9" fill="none" stroke="#262626" stroke-opacity="0.95" stroke-width="1.2"/>
<line x1="318.3" y1="120.43" x2="318.3" y2="125.33" stroke="#222222" stroke-width="1.5" />
<rect x="477" y="77.5" width="64.2" height="15.6" fill="#D9D9D9" />
<text x="509.1" y="88.9" font-size="8.3" fill="#1A1A1A" stroke="#1A1A1A" stroke-width="0.12" text-anchor="middle" font-weight="normal" >6</text>
<rect x="477" y="93.1" width="64.2" height="33.75" fill="#EBEBEB" />
<line x1="487.99" y1="93.1" x2="487.99" y2="126.85" stroke="#FFFFFF" stroke-width="0.55" />
<line x1="504.96" y1="93.1" x2="504.96" y2="126.85" stroke="#FFFFFF" stroke-width="0.55" />
<line x1="521.94" y1="93.1" x2="521.94" y2="126.85" stroke="#FFFFFF" stroke-width="0.55" />
<line x1="538.91" y1="93.1" x2="538.91" y2="126.85" stroke="#FFFFFF" stroke-width="0.55" />
<line x1="477" y1="97.2" x2="541.2" y2="97.2" stroke="#FFFFFF" stroke-width="1.0" />
<line x1="477" y1="103.62" x2="541.2" y2="103.62" stroke="#FFFFFF" stroke-width="1.0" />
<line x1="477" y1="110.04" x2="541.2" y2="110.04" stroke="#FFFFFF" stroke-width="1.0" />
<line x1="477" y1="116.46" x2="541.2" y2="116.46" stroke="#FFFFFF" stroke-width="1.0" />
<line x1="477" y1="122.88" x2="541.2" y2="122.88" stroke="#FFFFFF" stroke-width="1.0" />
<line x1="479.5" y1="93.1" x2="479.5" y2="126.85" stroke="#FFFFFF" stroke-width="1.0" />
<line x1="496.48" y1="93.1" x2="496.48" y2="126.85" stroke="#FFFFFF" stroke-width="1.0" />
<line x1="513.45" y1="93.1" x2="513.45" y2="126.85" stroke="#FFFFFF" stroke-width="1.0" />
<line x1="530.42" y1="93.1" x2="530.42" y2="126.85" stroke="#FFFFFF" stroke-width="1.0" />
<line x1="479.5" y1="126.85" x2="479.5" y2="129.45" stroke="#333333" stroke-width="1.0" />
<text x="479.5" y="138.2" font-size="8.3" fill="#4D4D4D" stroke="#4D4D4D" stroke-width="0.12" text-anchor="middle" font-weight="normal" >0</text>
<line x1="496.48" y1="126.85" x2="496.48" y2="129.45" stroke="#333333" stroke-width="1.0" />
<text x="496.48" y="138.2" font-size="8.3" fill="#4D4D4D" stroke="#4D4D4D" stroke-width="0.12" text-anchor="middle" font-weight="normal" >25</text>
<line x1="513.45" y1="126.85" x2="513.45" y2="129.45" stroke="#333333" stroke-width="1.0" />
<text x="513.45" y="138.2" font-size="8.3" fill="#4D4D4D" stroke="#4D4D4D" stroke-width="0.12" text-anchor="middle" font-weight="normal" >50</text>
<line x1="530.42" y1="126.85" x2="530.42" y2="129.45" stroke="#333333" stroke-width="1.0" />
<text x="530.42" y="138.2" font-size="8.3" fill="#4D4D4D" stroke="#4D4D4D" stroke-width="0.12" text-anchor="middle" font-weight="normal" >75</text>
<line x1="474.4" y1="97.2" x2="477" y2="97.2" stroke="#333333" stroke-width="1.0" />
<text x="472.3" y="100.8" font-size="8.3" fill="#4D4D4D" stroke="#4D4D4D" stroke-width="0.12" text-anchor="end" font-weight="normal" >unkn. Bacteria(d)</text>
<line x1="474.4" y1="103.62" x2="477" y2="103.62" stroke="#333333" stroke-width="1.0" />
<text x="472.3" y="107.22" font-size="8.3" fill="#4D4D4D" stroke="#4D4D4D" stroke-width="0.12" text-anchor="end" font-weight="normal" >Staphylococcus</text>
<line x1="474.4" y1="110.04" x2="477" y2="110.04" stroke="#333333" stroke-width="1.0" />
<text x="472.3" y="113.64" font-size="8.3" fill="#4D4D4D" stroke="#4D4D4D" stroke-width="0.12" text-anchor="end" font-weight="normal" >Pelomonas</text>
<line x1="474.4" y1="116.46" x2="477" y2="116.46" stroke="#333333" stroke-width="1.0" />
<text x="472.3" y="120.06" font-size="8.3" fill="#4D4D4D" stroke="#4D4D4D" stroke-width="0.12" text-anchor="end" font-weight="normal" >Chryseobacterium</text>
<line x1="474.4" y1="122.88" x2="477" y2="122.88" stroke="#333333" stroke-width="1.0" />
<text x="472.3" y="126.48" font-size="8.3" fill="#4D4D4D" stroke="#4D4D4D" stroke-width="0.12" text-anchor="end" font-weight="normal" >Aerococcus</text>
<line x1="479" y1="97.2" x2="480.5" y2="97.2" stroke="#333333" stroke-width="1.2" />
<line x1="484.5" y1="97.2" x2="486.5" y2="97.2" stroke="#333333" stroke-width="1.2" />
<rect x="480.5" y="94.75" width="4" height="4.9" fill="#E8A090" fill-opacity="0.7"/>
<circle cx="479" cy="95.7" r="1.75" fill="#E07060" fill-opacity="0.88"/>
<circle cx="481" cy="98.7" r="1.75" fill="#E07060" fill-opacity="0.88"/>
<circle cx="484" cy="95.2" r="1.75" fill="#E07060" fill-opacity="0.88"/>
<circle cx="488" cy="98.7" r="1.75" fill="#E07060" fill-opacity="0.88"/>
<circle cx="490.5" cy="97.7" r="1.75" fill="#E07060" fill-opacity="0.88"/>
<rect x="480.5" y="94.75" width="4" height="4.9" fill="none" stroke="#262626" stroke-opacity="0.95" stroke-width="1.2"/>
<line x1="482.3" y1="94.75" x2="482.3" y2="99.65" stroke="#222222" stroke-width="1.5" />
<line x1="479" y1="103.62" x2="480" y2="103.62" stroke="#333333" stroke-width="1.2" />
<line x1="483.5" y1="103.62" x2="486" y2="103.62" stroke="#333333" stroke-width="1.2" />
<rect x="480" y="101.17" width="3.5" height="4.9" fill="#FFC862" fill-opacity="0.7"/>
<circle cx="479" cy="102.12" r="1.75" fill="#FFA500" fill-opacity="0.88"/>
<circle cx="480" cy="105.12" r="1.75" fill="#FFA500" fill-opacity="0.88"/>
<circle cx="483" cy="105.62" r="1.75" fill="#FFA500" fill-opacity="0.88"/>
<circle cx="487" cy="102.62" r="1.75" fill="#FFA500" fill-opacity="0.88"/>
<circle cx="489.3" cy="102.12" r="1.75" fill="#FFA500" fill-opacity="0.88"/>
<circle cx="496.7" cy="103.62" r="1.75" fill="#FFA500" fill-opacity="0.88"/>
<rect x="480" y="101.17" width="3.5" height="4.9" fill="none" stroke="#262626" stroke-opacity="0.95" stroke-width="1.2"/>
<line x1="482" y1="101.17" x2="482" y2="106.07" stroke="#222222" stroke-width="1.5" />
<line x1="479" y1="110.04" x2="479.5" y2="110.04" stroke="#333333" stroke-width="1.2" />
<line x1="489.9" y1="110.04" x2="491.2" y2="110.04" stroke="#333333" stroke-width="1.2" />
<rect x="479.5" y="107.59" width="10.4" height="4.9" fill="#E08CEC" fill-opacity="0.7"/>
<circle cx="479" cy="108.04" r="1.75" fill="#A63DC0" fill-opacity="0.88"/>
<circle cx="479.5" cy="112.04" r="1.75" fill="#A63DC0" fill-opacity="0.88"/>
<circle cx="491.2" cy="107.84" r="1.75" fill="#A63DC0" fill-opacity="0.88"/>
<circle cx="491.2" cy="112.24" r="1.75" fill="#A63DC0" fill-opacity="0.88"/>
<rect x="479.5" y="107.59" width="10.4" height="4.9" fill="none" stroke="#262626" stroke-opacity="0.95" stroke-width="1.2"/>
<line x1="480" y1="107.59" x2="480" y2="112.49" stroke="#222222" stroke-width="1.5" />
<line x1="479.3" y1="116.46" x2="479.3" y2="116.46" stroke="#333333" stroke-width="1.2" />
<line x1="479.3" y1="116.46" x2="479.3" y2="116.46" stroke="#333333" stroke-width="1.2" />
<rect x="479.3" y="114.01" width="0.3" height="4.9" fill="#6A9FD0" fill-opacity="0.7"/>
<circle cx="478.8" cy="114.46" r="1.75" fill="#1F6FB0" fill-opacity="0.88"/>
<circle cx="479.5" cy="116.46" r="1.75" fill="#1F6FB0" fill-opacity="0.88"/>
<circle cx="479" cy="118.46" r="1.75" fill="#1F6FB0" fill-opacity="0.88"/>
<circle cx="538.3" cy="114.66" r="1.75" fill="#1F6FB0" fill-opacity="0.88"/>
<rect x="479.3" y="114.01" width="0.3" height="4.9" fill="none" stroke="#262626" stroke-opacity="0.95" stroke-width="1.2"/>
<line x1="479.3" y1="114.01" x2="479.3" y2="118.91" stroke="#222222" stroke-width="1.5" />
<line x1="479.3" y1="122.88" x2="479.3" y2="122.88" stroke="#333333" stroke-width="1.2" />
<line x1="479.3" y1="122.88" x2="479.3" y2="122.88" stroke="#333333" stroke-width="1.2" />
<rect x="479.3" y="120.43" width="0.3" height="4.9" fill="#FF6060" fill-opacity="0.7"/>
<circle cx="478.8" cy="120.88" r="1.75" fill="#FF0A0A" fill-opacity="0.88"/>
<circle cx="479.5" cy="122.88" r="1.75" fill="#FF0A0A" fill-opacity="0.88"/>
<circle cx="479" cy="124.88" r="1.75" fill="#FF0A0A" fill-opacity="0.88"/>
<circle cx="531.3" cy="123.88" r="1.75" fill="#FF0A0A" fill-opacity="0.88"/>
<rect x="479.3" y="120.43" width="0.3" height="4.9" fill="none" stroke="#262626" stroke-opacity="0.95" stroke-width="1.2"/>
<line x1="479.3" y1="120.43" x2="479.3" y2="125.33" stroke="#222222" stroke-width="1.5" />
<rect x="123.6" y="145" width="64.4" height="15.6" fill="#D9D9D9" />
<text x="155.8" y="156.4" font-size="8.3" fill="#1A1A1A" stroke="#1A1A1A" stroke-width="0.12" text-anchor="middle" font-weight="normal" >7</text>
<rect x="123.6" y="160.6" width="64.4" height="33.75" fill="#EBEBEB" />
<line x1="134.06" y1="160.6" x2="134.06" y2="194.35" stroke="#FFFFFF" stroke-width="0.55" />
<line x1="150.39" y1="160.6" x2="150.39" y2="194.35" stroke="#FFFFFF" stroke-width="0.55" />
<line x1="166.71" y1="160.6" x2="166.71" y2="194.35" stroke="#FFFFFF" stroke-width="0.55" />
<line x1="183.04" y1="160.6" x2="183.04" y2="194.35" stroke="#FFFFFF" stroke-width="0.55" />
<line x1="123.6" y1="164.7" x2="188" y2="164.7" stroke="#FFFFFF" stroke-width="1.0" />
<line x1="123.6" y1="171.12" x2="188" y2="171.12" stroke="#FFFFFF" stroke-width="1.0" />
<line x1="123.6" y1="177.54" x2="188" y2="177.54" stroke="#FFFFFF" stroke-width="1.0" />
<line x1="123.6" y1="183.96" x2="188" y2="183.96" stroke="#FFFFFF" stroke-width="1.0" />
<line x1="123.6" y1="190.38" x2="188" y2="190.38" stroke="#FFFFFF" stroke-width="1.0" />
<line x1="125.9" y1="160.6" x2="125.9" y2="194.35" stroke="#FFFFFF" stroke-width="1.0" />
<line x1="142.22" y1="160.6" x2="142.22" y2="194.35" stroke="#FFFFFF" stroke-width="1.0" />
<line x1="158.55" y1="160.6" x2="158.55" y2="194.35" stroke="#FFFFFF" stroke-width="1.0" />
<line x1="174.88" y1="160.6" x2="174.88" y2="194.35" stroke="#FFFFFF" stroke-width="1.0" />
<line x1="125.9" y1="194.35" x2="125.9" y2="196.95" stroke="#333333" stroke-width="1.0" />
<text x="125.9" y="205.7" font-size="8.3" fill="#4D4D4D" stroke="#4D4D4D" stroke-width="0.12" text-anchor="middle" font-weight="normal" >0</text>
<line x1="142.22" y1="194.35" x2="142.22" y2="196.95" stroke="#333333" stroke-width="1.0" />
<text x="142.22" y="205.7" font-size="8.3" fill="#4D4D4D" stroke="#4D4D4D" stroke-width="0.12" text-anchor="middle" font-weight="normal" >25</text>
<line x1="158.55" y1="194.35" x2="158.55" y2="196.95" stroke="#333333" stroke-width="1.0" />
<text x="158.55" y="205.7" font-size="8.3" fill="#4D4D4D" stroke="#4D4D4D" stroke-width="0.12" text-anchor="middle" font-weight="normal" >50</text>
<line x1="174.88" y1="194.35" x2="174.88" y2="196.95" stroke="#333333" stroke-width="1.0" />
<text x="174.88" y="205.7" font-size="8.3" fill="#4D4D4D" stroke="#4D4D4D" stroke-width="0.12" text-anchor="middle" font-weight="normal" >75</text>
<line x1="121" y1="164.7" x2="123.6" y2="164.7" stroke="#333333" stroke-width="1.0" />
<text x="118.9" y="168.3" font-size="8.3" fill="#4D4D4D" stroke="#4D4D4D" stroke-width="0.12" text-anchor="end" font-weight="normal" >unkn. Bacteria(d)</text>
<line x1="121" y1="171.12" x2="123.6" y2="171.12" stroke="#333333" stroke-width="1.0" />
<text x="118.9" y="174.72" font-size="8.3" fill="#4D4D4D" stroke="#4D4D4D" stroke-width="0.12" text-anchor="end" font-weight="normal" >unkn. Bacillales(o)</text>
<line x1="121" y1="177.54" x2="123.6" y2="177.54" stroke="#333333" stroke-width="1.0" />
<text x="118.9" y="181.14" font-size="8.3" fill="#4D4D4D" stroke="#4D4D4D" stroke-width="0.12" text-anchor="end" font-weight="normal" >unkn. Bacillaceae(f)</text>
<line x1="121" y1="183.96" x2="123.6" y2="183.96" stroke="#333333" stroke-width="1.0" />
<text x="118.9" y="187.56" font-size="8.3" fill="#4D4D4D" stroke="#4D4D4D" stroke-width="0.12" text-anchor="end" font-weight="normal" >Staphylococcus</text>
<line x1="121" y1="190.38" x2="123.6" y2="190.38" stroke="#333333" stroke-width="1.0" />
<text x="118.9" y="193.98" font-size="8.3" fill="#4D4D4D" stroke="#4D4D4D" stroke-width="0.12" text-anchor="end" font-weight="normal" >Bacillus</text>
<line x1="129" y1="164.7" x2="130.2" y2="164.7" stroke="#333333" stroke-width="1.2" />
<line x1="132.7" y1="164.7" x2="133.5" y2="164.7" stroke="#333333" stroke-width="1.2" />
<rect x="130.2" y="162.25" width="2.5" height="4.9" fill="#E89090" fill-opacity="0.7"/>
<circle cx="125.7" cy="162.4" r="1.75" fill="#E05A5A" fill-opacity="0.88"/>
<circle cx="130.2" cy="165.9" r="1.75" fill="#E05A5A" fill-opacity="0.88"/>
<circle cx="134" cy="166.5" r="1.75" fill="#E05A5A" fill-opacity="0.88"/>
<rect x="130.2" y="162.25" width="2.5" height="4.9" fill="none" stroke="#262626" stroke-opacity="0.95" stroke-width="1.2"/>
<line x1="131.5" y1="162.25" x2="131.5" y2="167.15" stroke="#222222" stroke-width="1.5" />
<line x1="126.5" y1="171.12" x2="127" y2="171.12" stroke="#333333" stroke-width="1.2" />
<line x1="128" y1="171.12" x2="128.5" y2="171.12" stroke="#333333" stroke-width="1.2" />
<rect x="127" y="168.67" width="1" height="4.9" fill="#EAB060" fill-opacity="0.7"/>
<circle cx="125.7" cy="168.82" r="1.75" fill="#E08A00" fill-opacity="0.88"/>
<circle cx="127" cy="171.12" r="1.75" fill="#E08A00" fill-opacity="0.88"/>
<circle cx="128.5" cy="173.12" r="1.75" fill="#E08A00" fill-opacity="0.88"/>
<circle cx="129.5" cy="170.12" r="1.75" fill="#E08A00" fill-opacity="0.88"/>
<rect x="127" y="168.67" width="1" height="4.9" fill="none" stroke="#262626" stroke-opacity="0.95" stroke-width="1.2"/>
<line x1="127.5" y1="168.67" x2="127.5" y2="173.57" stroke="#222222" stroke-width="1.5" />
<line x1="126.5" y1="177.54" x2="127" y2="177.54" stroke="#333333" stroke-width="1.2" />
<line x1="128" y1="177.54" x2="128.5" y2="177.54" stroke="#333333" stroke-width="1.2" />
<rect x="127" y="175.09" width="1" height="4.9" fill="#F5D060" fill-opacity="0.7"/>
<circle cx="125.5" cy="175.54" r="1.75" fill="#F0B800" fill-opacity="0.88"/>
<circle cx="127" cy="178.54" r="1.75" fill="#F0B800" fill-opacity="0.88"/>
<circle cx="129.5" cy="179.54" r="1.75" fill="#F0B800" fill-opacity="0.88"/>
<circle cx="130.2" cy="176.54" r="1.75" fill="#F0B800" fill-opacity="0.88"/>
<rect x="127" y="175.09" width="1" height="4.9" fill="none" stroke="#262626" stroke-opacity="0.95" stroke-width="1.2"/>
<line x1="127.5" y1="175.09" x2="127.5" y2="179.99" stroke="#222222" stroke-width="1.5" />
<line x1="125.5" y1="183.96" x2="127.6" y2="183.96" stroke="#333333" stroke-width="1.2" />
<line x1="133.4" y1="183.96" x2="133.4" y2="183.96" stroke="#333333" stroke-width="1.2" />
<rect x="127.6" y="181.51" width="5.8" height="4.9" fill="#FFC862" fill-opacity="0.7"/>
<circle cx="125.5" cy="180.96" r="1.75" fill="#FFA500" fill-opacity="0.88"/>
<circle cx="135.3" cy="182.46" r="1.75" fill="#FFA500" fill-opacity="0.88"/>
<rect x="127.6" y="181.51" width="5.8" height="4.9" fill="none" stroke="#262626" stroke-opacity="0.95" stroke-width="1.2"/>
<line x1="128.5" y1="181.51" x2="128.5" y2="186.41" stroke="#222222" stroke-width="1.5" />
<line x1="151.8" y1="190.38" x2="156.9" y2="190.38" stroke="#333333" stroke-width="1.2" />
<line x1="172.8" y1="190.38" x2="184.9" y2="190.38" stroke="#333333" stroke-width="1.2" />
<rect x="156.9" y="187.93" width="15.9" height="4.9" fill="#E090A8" fill-opacity="0.7"/>
<circle cx="153.7" cy="186.88" r="1.75" fill="#F4A000" fill-opacity="0.88"/>
<circle cx="151.8" cy="190.38" r="1.75" fill="#C8174F" fill-opacity="0.88"/>
<circle cx="168.4" cy="188.88" r="1.75" fill="#C8174F" fill-opacity="0.88"/>
<circle cx="174.7" cy="192.38" r="1.75" fill="#C8174F" fill-opacity="0.88"/>
<circle cx="184.9" cy="190.38" r="1.75" fill="#C8174F" fill-opacity="0.88"/>
<rect x="156.9" y="187.93" width="15.9" height="4.9" fill="none" stroke="#262626" stroke-opacity="0.95" stroke-width="1.2"/>
<line x1="168.4" y1="187.93" x2="168.4" y2="192.83" stroke="#222222" stroke-width="1.5" />
<rect x="315.5" y="145" width="64.5" height="15.6" fill="#D9D9D9" />
<text x="347.75" y="156.4" font-size="8.3" fill="#1A1A1A" stroke="#1A1A1A" stroke-width="0.12" text-anchor="middle" font-weight="normal" >8</text>
<rect x="315.5" y="160.6" width="64.5" height="33.75" fill="#EBEBEB" />
<line x1="325.58" y1="160.6" x2="325.58" y2="194.35" stroke="#FFFFFF" stroke-width="0.55" />
<line x1="340.53" y1="160.6" x2="340.53" y2="194.35" stroke="#FFFFFF" stroke-width="0.55" />
<line x1="355.48" y1="160.6" x2="355.48" y2="194.35" stroke="#FFFFFF" stroke-width="0.55" />
<line x1="370.43" y1="160.6" x2="370.43" y2="194.35" stroke="#FFFFFF" stroke-width="0.55" />
<line x1="315.5" y1="164.7" x2="380" y2="164.7" stroke="#FFFFFF" stroke-width="1.0" />
<line x1="315.5" y1="171.12" x2="380" y2="171.12" stroke="#FFFFFF" stroke-width="1.0" />
<line x1="315.5" y1="177.54" x2="380" y2="177.54" stroke="#FFFFFF" stroke-width="1.0" />
<line x1="315.5" y1="183.96" x2="380" y2="183.96" stroke="#FFFFFF" stroke-width="1.0" />
<line x1="315.5" y1="190.38" x2="380" y2="190.38" stroke="#FFFFFF" stroke-width="1.0" />
<line x1="318.1" y1="160.6" x2="318.1" y2="194.35" stroke="#FFFFFF" stroke-width="1.0" />
<line x1="333.05" y1="160.6" x2="333.05" y2="194.35" stroke="#FFFFFF" stroke-width="1.0" />
<line x1="348" y1="160.6" x2="348" y2="194.35" stroke="#FFFFFF" stroke-width="1.0" />
<line x1="362.95" y1="160.6" x2="362.95" y2="194.35" stroke="#FFFFFF" stroke-width="1.0" />
<line x1="377.9" y1="160.6" x2="377.9" y2="194.35" stroke="#FFFFFF" stroke-width="1.0" />
<line x1="318.1" y1="194.35" x2="318.1" y2="196.95" stroke="#333333" stroke-width="1.0" />
<text x="318.1" y="205.7" font-size="8.3" fill="#4D4D4D" stroke="#4D4D4D" stroke-width="0.12" text-anchor="middle" font-weight="normal" >0</text>
<line x1="333.05" y1="194.35" x2="333.05" y2="196.95" stroke="#333333" stroke-width="1.0" />
<text x="333.05" y="205.7" font-size="8.3" fill="#4D4D4D" stroke="#4D4D4D" stroke-width="0.12" text-anchor="middle" font-weight="normal" >25</text>
<line x1="348" y1="194.35" x2="348" y2="196.95" stroke="#333333" stroke-width="1.0" />
<text x="348" y="205.7" font-size="8.3" fill="#4D4D4D" stroke="#4D4D4D" stroke-width="0.12" text-anchor="middle" font-weight="normal" >50</text>
<line x1="362.95" y1="194.35" x2="362.95" y2="196.95" stroke="#333333" stroke-width="1.0" />
<text x="362.95" y="205.7" font-size="8.3" fill="#4D4D4D" stroke="#4D4D4D" stroke-width="0.12" text-anchor="middle" font-weight="normal" >75</text>
<line x1="377.9" y1="194.35" x2="377.9" y2="196.95" stroke="#333333" stroke-width="1.0" />
<text x="377.9" y="205.7" font-size="8.3" fill="#4D4D4D" stroke="#4D4D4D" stroke-width="0.12" text-anchor="middle" font-weight="normal" >100</text>
<line x1="312.9" y1="164.7" x2="315.5" y2="164.7" stroke="#333333" stroke-width="1.0" />
<text x="310.8" y="168.3" font-size="8.3" fill="#4D4D4D" stroke="#4D4D4D" stroke-width="0.12" text-anchor="end" font-weight="normal" >unkn. Pseudomonadaceae(f)</text>
<line x1="312.9" y1="171.12" x2="315.5" y2="171.12" stroke="#333333" stroke-width="1.0" />
<text x="310.8" y="174.72" font-size="8.3" fill="#4D4D4D" stroke="#4D4D4D" stroke-width="0.12" text-anchor="end" font-weight="normal" >unkn. Gammaproteobacteria(c)</text>
<line x1="312.9" y1="177.54" x2="315.5" y2="177.54" stroke="#333333" stroke-width="1.0" />
<text x="310.8" y="181.14" font-size="8.3" fill="#4D4D4D" stroke="#4D4D4D" stroke-width="0.12" text-anchor="end" font-weight="normal" >unkn. Bacteria(d)</text>
<line x1="312.9" y1="183.96" x2="315.5" y2="183.96" stroke="#333333" stroke-width="1.0" />
<text x="310.8" y="187.56" font-size="8.3" fill="#4D4D4D" stroke="#4D4D4D" stroke-width="0.12" text-anchor="end" font-weight="normal" >Staphylococcus</text>
<line x1="312.9" y1="190.38" x2="315.5" y2="190.38" stroke="#333333" stroke-width="1.0" />
<text x="310.8" y="193.98" font-size="8.3" fill="#4D4D4D" stroke="#4D4D4D" stroke-width="0.12" text-anchor="end" font-weight="normal" >Pseudomonas</text>
<line x1="319" y1="164.7" x2="319" y2="164.7" stroke="#333333" stroke-width="1.2" />
<line x1="320" y1="164.7" x2="320" y2="164.7" stroke="#333333" stroke-width="1.2" />
<rect x="319" y="162.25" width="1" height="4.9" fill="#B0B0B0" fill-opacity="0.7"/>
<circle cx="318.1" cy="162.7" r="1.75" fill="#8F8F8F" fill-opacity="0.88"/>
<circle cx="320" cy="164.7" r="1.75" fill="#8F8F8F" fill-opacity="0.88"/>
<circle cx="321.3" cy="165.7" r="1.75" fill="#8F8F8F" fill-opacity="0.88"/>
<circle cx="319" cy="166.7" r="1.75" fill="#8F8F8F" fill-opacity="0.88"/>
<rect x="319" y="162.25" width="1" height="4.9" fill="none" stroke="#262626" stroke-opacity="0.95" stroke-width="1.2"/>
<line x1="319.5" y1="162.25" x2="319.5" y2="167.15" stroke="#222222" stroke-width="1.5" />
<line x1="318.5" y1="171.12" x2="318.5" y2="171.12" stroke="#333333" stroke-width="1.2" />
<line x1="318.5" y1="171.12" x2="318.5" y2="171.12" stroke="#333333" stroke-width="1.2" />
<rect x="318.5" y="168.67" width="0.3" height="4.9" fill="#E8A0D0" fill-opacity="0.7"/>
<circle cx="317.5" cy="172.62" r="1.75" fill="#E377C2" fill-opacity="0.88"/>
<circle cx="319" cy="171.62" r="1.75" fill="#E377C2" fill-opacity="0.88"/>
<circle cx="318" cy="170.12" r="1.75" fill="#E377C2" fill-opacity="0.88"/>
<rect x="318.5" y="168.67" width="0.3" height="4.9" fill="none" stroke="#262626" stroke-opacity="0.95" stroke-width="1.2"/>
<line x1="318.5" y1="168.67" x2="318.5" y2="173.57" stroke="#222222" stroke-width="1.5" />
<line x1="318.5" y1="177.54" x2="318.5" y2="177.54" stroke="#333333" stroke-width="1.2" />
<line x1="320.5" y1="177.54" x2="321" y2="177.54" stroke="#333333" stroke-width="1.2" />
<rect x="318.5" y="175.09" width="2" height="4.9" fill="#E89090" fill-opacity="0.7"/>
<circle cx="317.5" cy="177.54" r="1.75" fill="#E05050" fill-opacity="0.88"/>
<circle cx="322" cy="176.54" r="1.75" fill="#E05050" fill-opacity="0.88"/>
<circle cx="323.2" cy="178.04" r="1.75" fill="#E05050" fill-opacity="0.88"/>
<circle cx="319" cy="179.54" r="1.75" fill="#E05050" fill-opacity="0.88"/>
<rect x="318.5" y="175.09" width="2" height="4.9" fill="none" stroke="#262626" stroke-opacity="0.95" stroke-width="1.2"/>
<line x1="319.5" y1="175.09" x2="319.5" y2="179.99" stroke="#222222" stroke-width="1.5" />
<line x1="318.5" y1="183.96" x2="318.5" y2="183.96" stroke="#333333" stroke-width="1.2" />
<line x1="318.5" y1="183.96" x2="318.5" y2="183.96" stroke="#333333" stroke-width="1.2" />
<rect x="318.5" y="181.51" width="0.3" height="4.9" fill="#FFC862" fill-opacity="0.7"/>
<circle cx="317.5" cy="185.46" r="1.75" fill="#FFA500" fill-opacity="0.88"/>
<circle cx="318.5" cy="182.46" r="1.75" fill="#FFA500" fill-opacity="0.88"/>
<circle cx="319" cy="186.46" r="1.75" fill="#FFA500" fill-opacity="0.88"/>
<rect x="318.5" y="181.51" width="0.3" height="4.9" fill="none" stroke="#262626" stroke-opacity="0.95" stroke-width="1.2"/>
<line x1="318.5" y1="181.51" x2="318.5" y2="186.41" stroke="#222222" stroke-width="1.5" />
<line x1="371" y1="190.38" x2="371.5" y2="190.38" stroke="#333333" stroke-width="1.2" />
<line x1="375.5" y1="190.38" x2="376" y2="190.38" stroke="#333333" stroke-width="1.2" />
<rect x="371.5" y="187.93" width="4" height="4.9" fill="#A0785C" fill-opacity="0.7"/>
<circle cx="369" cy="192.18" r="1.75" fill="#FF5722" fill-opacity="0.88"/>
<circle cx="372" cy="191.38" r="1.75" fill="#FF5722" fill-opacity="0.88"/>
<circle cx="375" cy="190.38" r="1.75" fill="#FF5722" fill-opacity="0.88"/>
<circle cx="377.3" cy="188.88" r="1.75" fill="#FF5722" fill-opacity="0.88"/>
<rect x="371.5" y="187.93" width="4" height="4.9" fill="none" stroke="#262626" stroke-opacity="0.95" stroke-width="1.2"/>
<line x1="372.5" y1="187.93" x2="372.5" y2="192.83" stroke="#222222" stroke-width="1.5" />
<rect x="477" y="145" width="64.2" height="15.6" fill="#D9D9D9" />
<text x="509.1" y="156.4" font-size="8.3" fill="#1A1A1A" stroke="#1A1A1A" stroke-width="0.12" text-anchor="middle" font-weight="normal" >9</text>
<rect x="477" y="160.6" width="64.2" height="33.75" fill="#EBEBEB" />
<line x1="485.5" y1="160.6" x2="485.5" y2="194.35" stroke="#FFFFFF" stroke-width="0.55" />
<line x1="497.5" y1="160.6" x2="497.5" y2="194.35" stroke="#FFFFFF" stroke-width="0.55" />
<line x1="509.5" y1="160.6" x2="509.5" y2="194.35" stroke="#FFFFFF" stroke-width="0.55" />
<line x1="521.5" y1="160.6" x2="521.5" y2="194.35" stroke="#FFFFFF" stroke-width="0.55" />
<line x1="533.5" y1="160.6" x2="533.5" y2="194.35" stroke="#FFFFFF" stroke-width="0.55" />
<line x1="477" y1="164.7" x2="541.2" y2="164.7" stroke="#FFFFFF" stroke-width="1.0" />
<line x1="477" y1="171.12" x2="541.2" y2="171.12" stroke="#FFFFFF" stroke-width="1.0" />
<line x1="477" y1="177.54" x2="541.2" y2="177.54" stroke="#FFFFFF" stroke-width="1.0" />
<line x1="477" y1="183.96" x2="541.2" y2="183.96" stroke="#FFFFFF" stroke-width="1.0" />
<line x1="477" y1="190.38" x2="541.2" y2="190.38" stroke="#FFFFFF" stroke-width="1.0" />
<line x1="479.5" y1="160.6" x2="479.5" y2="194.35" stroke="#FFFFFF" stroke-width="1.0" />
<line x1="491.5" y1="160.6" x2="491.5" y2="194.35" stroke="#FFFFFF" stroke-width="1.0" />
<line x1="503.5" y1="160.6" x2="503.5" y2="194.35" stroke="#FFFFFF" stroke-width="1.0" />
<line x1="515.5" y1="160.6" x2="515.5" y2="194.35" stroke="#FFFFFF" stroke-width="1.0" />
<line x1="527.5" y1="160.6" x2="527.5" y2="194.35" stroke="#FFFFFF" stroke-width="1.0" />
<line x1="539.5" y1="160.6" x2="539.5" y2="194.35" stroke="#FFFFFF" stroke-width="1.0" />
<line x1="479.5" y1="194.35" x2="479.5" y2="196.95" stroke="#333333" stroke-width="1.0" />
<text x="479.5" y="205.7" font-size="8.3" fill="#4D4D4D" stroke="#4D4D4D" stroke-width="0.12" text-anchor="middle" font-weight="normal" >0</text>
<line x1="491.5" y1="194.35" x2="491.5" y2="196.95" stroke="#333333" stroke-width="1.0" />
<text x="491.5" y="205.7" font-size="8.3" fill="#4D4D4D" stroke="#4D4D4D" stroke-width="0.12" text-anchor="middle" font-weight="normal" >10</text>
<line x1="503.5" y1="194.35" x2="503.5" y2="196.95" stroke="#333333" stroke-width="1.0" />
<text x="503.5" y="205.7" font-size="8.3" fill="#4D4D4D" stroke="#4D4D4D" stroke-width="0.12" text-anchor="middle" font-weight="normal" >20</text>
<line x1="515.5" y1="194.35" x2="515.5" y2="196.95" stroke="#333333" stroke-width="1.0" />
<text x="515.5" y="205.7" font-size="8.3" fill="#4D4D4D" stroke="#4D4D4D" stroke-width="0.12" text-anchor="middle" font-weight="normal" >30</text>
<line x1="527.5" y1="194.35" x2="527.5" y2="196.95" stroke="#333333" stroke-width="1.0" />
<text x="527.5" y="205.7" font-size="8.3" fill="#4D4D4D" stroke="#4D4D4D" stroke-width="0.12" text-anchor="middle" font-weight="normal" >40</text>
<line x1="539.5" y1="194.35" x2="539.5" y2="196.95" stroke="#333333" stroke-width="1.0" />
<text x="539.5" y="205.7" font-size="8.3" fill="#4D4D4D" stroke="#4D4D4D" stroke-width="0.12" text-anchor="middle" font-weight="normal" >50</text>
<line x1="474.4" y1="164.7" x2="477" y2="164.7" stroke="#333333" stroke-width="1.0" />
<text x="472.3" y="168.3" font-size="8.3" fill="#4D4D4D" stroke="#4D4D4D" stroke-width="0.12" text-anchor="end" font-weight="normal" >unkn. Bacteria(d)</text>
<line x1="474.4" y1="171.12" x2="477" y2="171.12" stroke="#333333" stroke-width="1.0" />
<text x="472.3" y="174.72" font-size="8.3" fill="#4D4D4D" stroke="#4D4D4D" stroke-width="0.12" text-anchor="end" font-weight="normal" >unkn. Actinobacteria(c)</text>
<line x1="474.4" y1="177.54" x2="477" y2="177.54" stroke="#333333" stroke-width="1.0" />
<text x="472.3" y="181.14" font-size="8.3" fill="#4D4D4D" stroke="#4D4D4D" stroke-width="0.12" text-anchor="end" font-weight="normal" >Streptomyces</text>
<line x1="474.4" y1="183.96" x2="477" y2="183.96" stroke="#333333" stroke-width="1.0" />
<text x="472.3" y="187.56" font-size="8.3" fill="#4D4D4D" stroke="#4D4D4D" stroke-width="0.12" text-anchor="end" font-weight="normal" >Kocuria</text>
<line x1="474.4" y1="190.38" x2="477" y2="190.38" stroke="#333333" stroke-width="1.0" />
<text x="472.3" y="193.98" font-size="8.3" fill="#4D4D4D" stroke="#4D4D4D" stroke-width="0.12" text-anchor="end" font-weight="normal" >Enterococcus</text>
<line x1="490" y1="164.7" x2="490.3" y2="164.7" stroke="#333333" stroke-width="1.2" />
<line x1="490.8" y1="164.7" x2="491" y2="164.7" stroke="#333333" stroke-width="1.2" />
<rect x="490.3" y="162.25" width="0.5" height="4.9" fill="#E89080" fill-opacity="0.7"/>
<circle cx="485.5" cy="164.1" r="1.75" fill="#E06050" fill-opacity="0.88"/>
<circle cx="490.5" cy="166.2" r="1.75" fill="#E06050" fill-opacity="0.88"/>
<circle cx="492.5" cy="166.2" r="1.75" fill="#E06050" fill-opacity="0.88"/>
<rect x="490.3" y="162.25" width="0.5" height="4.9" fill="none" stroke="#262626" stroke-opacity="0.95" stroke-width="1.2"/>
<line x1="490.5" y1="162.25" x2="490.5" y2="167.15" stroke="#222222" stroke-width="1.5" />
<line x1="489.3" y1="171.12" x2="498.8" y2="171.12" stroke="#333333" stroke-width="1.2" />
<line x1="506.5" y1="171.12" x2="509.6" y2="171.12" stroke="#333333" stroke-width="1.2" />
<rect x="498.8" y="168.67" width="7.7" height="4.9" fill="#F6EE80" fill-opacity="0.7"/>
<circle cx="489.3" cy="171.12" r="1.75" fill="#F0E000" fill-opacity="0.88"/>
<circle cx="498.8" cy="169.62" r="1.75" fill="#F0E000" fill-opacity="0.88"/>
<circle cx="506.5" cy="172.62" r="1.75" fill="#F0E000" fill-opacity="0.88"/>
<circle cx="508.4" cy="169.62" r="1.75" fill="#F0E000" fill-opacity="0.88"/>
<circle cx="510" cy="171.12" r="1.75" fill="#F0E000" fill-opacity="0.88"/>
<rect x="498.8" y="168.67" width="7.7" height="4.9" fill="none" stroke="#262626" stroke-opacity="0.95" stroke-width="1.2"/>
<line x1="503" y1="168.67" x2="503" y2="173.57" stroke="#222222" stroke-width="1.5" />
<line x1="480.8" y1="177.54" x2="480.8" y2="177.54" stroke="#333333" stroke-width="1.2" />
<line x1="482.3" y1="177.54" x2="482.3" y2="177.54" stroke="#333333" stroke-width="1.2" />
<rect x="480.8" y="175.09" width="1.5" height="4.9" fill="#F6D870" fill-opacity="0.7"/>
<circle cx="480.4" cy="176.04" r="1.75" fill="#F0C000" fill-opacity="0.88"/>
<circle cx="482.9" cy="180.04" r="1.75" fill="#F0C000" fill-opacity="0.88"/>
<circle cx="481" cy="179.54" r="1.75" fill="#F0C000" fill-opacity="0.88"/>
<circle cx="499.5" cy="178.04" r="1.75" fill="#F0C000" fill-opacity="0.88"/>
<rect x="480.8" y="175.09" width="1.5" height="4.9" fill="none" stroke="#262626" stroke-opacity="0.95" stroke-width="1.2"/>
<line x1="481.5" y1="175.09" x2="481.5" y2="179.99" stroke="#222222" stroke-width="1.5" />
<line x1="479.1" y1="183.96" x2="504.5" y2="183.96" stroke="#333333" stroke-width="1.2" />
<line x1="531.9" y1="183.96" x2="538.3" y2="183.96" stroke="#333333" stroke-width="1.2" />
<rect x="504.5" y="181.51" width="27.4" height="4.9" fill="#66D08E" fill-opacity="0.7"/>
<circle cx="479.1" cy="183.96" r="1.75" fill="#0E9F48" fill-opacity="0.88"/>
<circle cx="504.5" cy="185.76" r="1.75" fill="#0E9F48" fill-opacity="0.88"/>
<circle cx="515.4" cy="181.96" r="1.75" fill="#0E9F48" fill-opacity="0.88"/>
<circle cx="531.9" cy="182.96" r="1.75" fill="#0E9F48" fill-opacity="0.88"/>
<circle cx="538.3" cy="183.46" r="1.75" fill="#0E9F48" fill-opacity="0.88"/>
<rect x="504.5" y="181.51" width="27.4" height="4.9" fill="none" stroke="#262626" stroke-opacity="0.95" stroke-width="1.2"/>
<line x1="515.4" y1="181.51" x2="515.4" y2="186.41" stroke="#222222" stroke-width="1.5" />
<line x1="479.3" y1="190.38" x2="479.3" y2="190.38" stroke="#333333" stroke-width="1.2" />
<line x1="479.3" y1="190.38" x2="479.3" y2="190.38" stroke="#333333" stroke-width="1.2" />
<rect x="479.3" y="187.93" width="0.3" height="4.9" fill="#50B070" fill-opacity="0.7"/>
<circle cx="478.8" cy="188.38" r="1.75" fill="#0A8A3A" fill-opacity="0.88"/>
<circle cx="479.5" cy="190.38" r="1.75" fill="#0A8A3A" fill-opacity="0.88"/>
<circle cx="479" cy="192.38" r="1.75" fill="#0A8A3A" fill-opacity="0.88"/>
<circle cx="512.2" cy="189.48" r="1.75" fill="#0A8A3A" fill-opacity="0.88"/>
<rect x="479.3" y="187.93" width="0.3" height="4.9" fill="none" stroke="#262626" stroke-opacity="0.95" stroke-width="1.2"/>
<line x1="479.3" y1="187.93" x2="479.3" y2="192.83" stroke="#222222" stroke-width="1.5" />
<text x="332.2" y="218" font-size="10.4" fill="#000000" stroke="#000000" stroke-width="0.12" text-anchor="middle" font-weight="normal" >Abundance (%)</text>
<text x="8.7" y="239.8" font-size="13.8" fill="#000000" stroke="#000000" stroke-width="0.12" text-anchor="start" font-weight="bold" >B</text>
<text x="280.5" y="239.8" font-size="13.8" fill="#000000" stroke="#000000" stroke-width="0.12" text-anchor="start" font-weight="bold" >C</text>
<rect x="40.3" y="230.2" width="107.4" height="15.8" fill="#D9D9D9" />
<text x="94" y="241.7" font-size="8.3" fill="#1A1A1A" stroke="#1A1A1A" stroke-width="0.12" text-anchor="middle" font-weight="normal" >Observed</text>
<rect x="40.3" y="246" width="107.4" height="172.5" fill="#EBEBEB" />
<line x1="40.3" y1="395.7" x2="147.7" y2="395.7" stroke="#FFFFFF" stroke-width="0.55" />
<line x1="40.3" y1="348.3" x2="147.7" y2="348.3" stroke="#FFFFFF" stroke-width="0.55" />
<line x1="40.3" y1="300.9" x2="147.7" y2="300.9" stroke="#FFFFFF" stroke-width="0.55" />
<line x1="40.3" y1="253.5" x2="147.7" y2="253.5" stroke="#FFFFFF" stroke-width="0.55" />
<line x1="40.3" y1="372" x2="147.7" y2="372" stroke="#FFFFFF" stroke-width="1.0" />
<line x1="40.3" y1="324.6" x2="147.7" y2="324.6" stroke="#FFFFFF" stroke-width="1.0" />
<line x1="40.3" y1="277.2" x2="147.7" y2="277.2" stroke="#FFFFFF" stroke-width="1.0" />
<line x1="47.3" y1="246" x2="47.3" y2="418.5" stroke="#FFFFFF" stroke-width="1.0" />
<line x1="58.98" y1="246" x2="58.98" y2="418.5" stroke="#FFFFFF" stroke-width="1.0" />
<line x1="70.65" y1="246" x2="70.65" y2="418.5" stroke="#FFFFFF" stroke-width="1.0" />
<line x1="82.33" y1="246" x2="82.33" y2="418.5" stroke="#FFFFFF" stroke-width="1.0" />
<line x1="94" y1="246" x2="94" y2="418.5" stroke="#FFFFFF" stroke-width="1.0" />
<line x1="105.67" y1="246" x2="105.67" y2="418.5" stroke="#FFFFFF" stroke-width="1.0" />
<line x1="117.35" y1="246" x2="117.35" y2="418.5" stroke="#FFFFFF" stroke-width="1.0" />
<line x1="129.02" y1="246" x2="129.02" y2="418.5" stroke="#FFFFFF" stroke-width="1.0" />
<line x1="140.7" y1="246" x2="140.7" y2="418.5" stroke="#FFFFFF" stroke-width="1.0" />
<line x1="37.7" y1="372" x2="40.3" y2="372" stroke="#333333" stroke-width="1.0" />
<text x="35.6" y="375.6" font-size="8.3" fill="#4D4D4D" stroke="#4D4D4D" stroke-width="0.12" text-anchor="end" font-weight="normal" >100</text>
<line x1="37.7" y1="324.6" x2="40.3" y2="324.6" stroke="#333333" stroke-width="1.0" />
<text x="35.6" y="328.2" font-size="8.3" fill="#4D4D4D" stroke="#4D4D4D" stroke-width="0.12" text-anchor="end" font-weight="normal" >200</text>
<line x1="37.7" y1="277.2" x2="40.3" y2="277.2" stroke="#333333" stroke-width="1.0" />
<text x="35.6" y="280.8" font-size="8.3" fill="#4D4D4D" stroke="#4D4D4D" stroke-width="0.12" text-anchor="end" font-weight="normal" >300</text>
<line x1="47.3" y1="418.5" x2="47.3" y2="421.1" stroke="#333333" stroke-width="1.0" />
<text x="0" y="0" font-size="8.3" fill="#4D4D4D" text-anchor="middle" transform="translate(50.3,426.2) rotate(-90)">1</text>
<line x1="58.98" y1="418.5" x2="58.98" y2="421.1" stroke="#333333" stroke-width="1.0" />
<text x="0" y="0" font-size="8.3" fill="#4D4D4D" text-anchor="middle" transform="translate(61.98,426.2) rotate(-90)">2</text>
<line x1="70.65" y1="418.5" x2="70.65" y2="421.1" stroke="#333333" stroke-width="1.0" />
<text x="0" y="0" font-size="8.3" fill="#4D4D4D" text-anchor="middle" transform="translate(73.65,426.2) rotate(-90)">3</text>
<line x1="82.33" y1="418.5" x2="82.33" y2="421.1" stroke="#333333" stroke-width="1.0" />
<text x="0" y="0" font-size="8.3" fill="#4D4D4D" text-anchor="middle" transform="translate(85.33,426.2) rotate(-90)">4</text>
<line x1="94" y1="418.5" x2="94" y2="421.1" stroke="#333333" stroke-width="1.0" />
<text x="0" y="0" font-size="8.3" fill="#4D4D4D" text-anchor="middle" transform="translate(97,426.2) rotate(-90)">5</text>
<line x1="105.67" y1="418.5" x2="105.67" y2="421.1" stroke="#333333" stroke-width="1.0" />
<text x="0" y="0" font-size="8.3" fill="#4D4D4D" text-anchor="middle" transform="translate(108.67,426.2) rotate(-90)">6</text>
<line x1="117.35" y1="418.5" x2="117.35" y2="421.1" stroke="#333333" stroke-width="1.0" />
<text x="0" y="0" font-size="8.3" fill="#4D4D4D" text-anchor="middle" transform="translate(120.35,426.2) rotate(-90)">7</text>
<line x1="129.02" y1="418.5" x2="129.02" y2="421.1" stroke="#333333" stroke-width="1.0" />
<text x="0" y="0" font-size="8.3" fill="#4D4D4D" text-anchor="middle" transform="translate(132.02,426.2) rotate(-90)">8</text>
<line x1="140.7" y1="418.5" x2="140.7" y2="421.1" stroke="#333333" stroke-width="1.0" />
<text x="0" y="0" font-size="8.3" fill="#4D4D4D" text-anchor="middle" transform="translate(143.7,426.2) rotate(-90)">9</text>
<line x1="47.3" y1="344.32" x2="47.3" y2="335.98" stroke="#2b2b2b" stroke-width="1.2" />
<line x1="47.3" y1="329.34" x2="47.3" y2="328.39" stroke="#2b2b2b" stroke-width="1.2" />
<rect x="42.93" y="329.34" width="8.75" height="6.64" fill="#FFB0AB"/>
<line x1="58.98" y1="365.84" x2="58.98" y2="362.99" stroke="#2b2b2b" stroke-width="1.2" />
<line x1="58.98" y1="348.3" x2="58.98" y2="345.46" stroke="#2b2b2b" stroke-width="1.2" />
<rect x="54.6" y="348.3" width="8.75" height="14.69" fill="#FFB0AB"/>
<line x1="70.65" y1="402.34" x2="70.65" y2="390.82" stroke="#2b2b2b" stroke-width="1.2" />
<line x1="70.65" y1="381.48" x2="70.65" y2="370.01" stroke="#2b2b2b" stroke-width="1.2" />
<rect x="66.28" y="381.48" width="8.75" height="9.34" fill="#FFB0AB"/>
<line x1="82.33" y1="353.51" x2="82.33" y2="348.3" stroke="#2b2b2b" stroke-width="1.2" />
<line x1="82.33" y1="339.77" x2="82.33" y2="336.21" stroke="#2b2b2b" stroke-width="1.2" />
<rect x="77.95" y="339.77" width="8.75" height="8.53" fill="#FFB0AB"/>
<line x1="94" y1="409.21" x2="94" y2="404.28" stroke="#2b2b2b" stroke-width="1.2" />
<line x1="94" y1="394.42" x2="94" y2="379.02" stroke="#2b2b2b" stroke-width="1.2" />
<rect x="89.62" y="394.42" width="8.75" height="9.86" fill="#FFB0AB"/>
<line x1="105.67" y1="403.76" x2="105.67" y2="379.58" stroke="#2b2b2b" stroke-width="1.2" />
<line x1="105.67" y1="304.69" x2="105.67" y2="253.5" stroke="#2b2b2b" stroke-width="1.2" />
<rect x="101.3" y="304.69" width="8.75" height="74.89" fill="#FFB0AB"/>
<line x1="117.35" y1="390.96" x2="117.35" y2="381.48" stroke="#2b2b2b" stroke-width="1.2" />
<line x1="117.35" y1="371.05" x2="117.35" y2="368.68" stroke="#2b2b2b" stroke-width="1.2" />
<rect x="112.97" y="371.05" width="8.75" height="10.43" fill="#FFB0AB"/>
<line x1="129.02" y1="405.65" x2="129.02" y2="405.65" stroke="#2b2b2b" stroke-width="1.2" />
<line x1="129.02" y1="405.65" x2="129.02" y2="405.65" stroke="#2b2b2b" stroke-width="1.2" />
<rect x="124.65" y="405.65" width="8.75" height="0.5" fill="#FFB0AB"/>
<line x1="140.7" y1="360.62" x2="140.7" y2="347.83" stroke="#2b2b2b" stroke-width="1.2" />
<line x1="140.7" y1="336.92" x2="140.7" y2="335.98" stroke="#2b2b2b" stroke-width="1.2" />
<rect x="136.32" y="336.92" width="8.75" height="10.9" fill="#FFB0AB"/>
<circle cx="43.1" cy="309.91" r="1.95" fill="#FA6C64" fill-opacity="0.85"/>
<circle cx="51.4" cy="328.87" r="1.95" fill="#FA6C64" fill-opacity="0.85"/>
<circle cx="48.7" cy="344.32" r="1.95" fill="#FA6C64" fill-opacity="0.85"/>
<circle cx="45.3" cy="332.66" r="1.95" fill="#FA6C64" fill-opacity="0.85"/>
<circle cx="50.3" cy="334.08" r="1.95" fill="#FA6C64" fill-opacity="0.85"/>
<circle cx="58.78" cy="322.7" r="1.95" fill="#FA6C64" fill-opacity="0.85"/>
<circle cx="56.08" cy="346.4" r="1.95" fill="#FA6C64" fill-opacity="0.85"/>
<circle cx="63.48" cy="345.93" r="1.95" fill="#FA6C64" fill-opacity="0.85"/>
<circle cx="54.98" cy="348.3" r="1.95" fill="#FA6C64" fill-opacity="0.85"/>
<circle cx="60.98" cy="353.04" r="1.95" fill="#FA6C64" fill-opacity="0.85"/>
<circle cx="56.98" cy="360.15" r="1.95" fill="#FA6C64" fill-opacity="0.85"/>
<circle cx="62.98" cy="363.47" r="1.95" fill="#FA6C64" fill-opacity="0.85"/>
<circle cx="57.98" cy="367.26" r="1.95" fill="#FA6C64" fill-opacity="0.85"/>
<circle cx="63.98" cy="352.09" r="1.95" fill="#FA6C64" fill-opacity="0.85"/>
<circle cx="57.88" cy="357.02" r="1.95" fill="#FA6C64" fill-opacity="0.85"/>
<circle cx="61.85" cy="367.4" r="1.95" fill="#FA6C64" fill-opacity="0.85"/>
<circle cx="65.55" cy="369.2" r="1.95" fill="#FA6C64" fill-opacity="0.85"/>
<circle cx="68.05" cy="371.72" r="1.95" fill="#FA6C64" fill-opacity="0.85"/>
<circle cx="68.05" cy="375.98" r="1.95" fill="#FA6C64" fill-opacity="0.85"/>
<circle cx="63.15" cy="387.59" r="1.95" fill="#FA6C64" fill-opacity="0.85"/>
<circle cx="68.65" cy="391.29" r="1.95" fill="#FA6C64" fill-opacity="0.85"/>
<circle cx="74.15" cy="391.29" r="1.95" fill="#FA6C64" fill-opacity="0.85"/>
<circle cx="68.65" cy="394.33" r="1.95" fill="#FA6C64" fill-opacity="0.85"/>
<circle cx="71.15" cy="402.9" r="1.95" fill="#FA6C64" fill-opacity="0.85"/>
<circle cx="61.25" cy="399.3" r="1.95" fill="#FA6C64" fill-opacity="0.85"/>
<circle cx="73.55" cy="382.19" r="1.95" fill="#FA6C64" fill-opacity="0.85"/>
<circle cx="67.65" cy="383.85" r="1.95" fill="#FA6C64" fill-opacity="0.85"/>
<circle cx="73.65" cy="387.17" r="1.95" fill="#FA6C64" fill-opacity="0.85"/>
<circle cx="81.33" cy="335.5" r="1.95" fill="#FA6C64" fill-opacity="0.85"/>
<circle cx="84.33" cy="339.77" r="1.95" fill="#FA6C64" fill-opacity="0.85"/>
<circle cx="79.33" cy="348.3" r="1.95" fill="#FA6C64" fill-opacity="0.85"/>
<circle cx="82.33" cy="353.04" r="1.95" fill="#FA6C64" fill-opacity="0.85"/>
<circle cx="90.8" cy="371.72" r="1.95" fill="#FA6C64" fill-opacity="0.85"/>
<circle cx="90.1" cy="378.49" r="1.95" fill="#FA6C64" fill-opacity="0.85"/>
<circle cx="96.9" cy="379.11" r="1.95" fill="#FA6C64" fill-opacity="0.85"/>
<circle cx="90.1" cy="383.99" r="1.95" fill="#FA6C64" fill-opacity="0.85"/>
<circle cx="96.3" cy="388.31" r="1.95" fill="#FA6C64" fill-opacity="0.85"/>
<circle cx="89.5" cy="393.19" r="1.95" fill="#FA6C64" fill-opacity="0.85"/>
<circle cx="90.1" cy="406.7" r="1.95" fill="#FA6C64" fill-opacity="0.85"/>
<circle cx="93.8" cy="406.7" r="1.95" fill="#FA6C64" fill-opacity="0.85"/>
<circle cx="97.5" cy="407.41" r="1.95" fill="#FA6C64" fill-opacity="0.85"/>
<circle cx="98.1" cy="410.39" r="1.95" fill="#FA6C64" fill-opacity="0.85"/>
<circle cx="92" cy="408.59" r="1.95" fill="#FA6C64" fill-opacity="0.85"/>
<circle cx="93" cy="398.07" r="1.95" fill="#FA6C64" fill-opacity="0.85"/>
<circle cx="96" cy="401.39" r="1.95" fill="#FA6C64" fill-opacity="0.85"/>
<circle cx="104.67" cy="253.5" r="1.95" fill="#FA6C64" fill-opacity="0.85"/>
<circle cx="104.67" cy="403.76" r="1.95" fill="#FA6C64" fill-opacity="0.85"/>
<circle cx="115.35" cy="368.68" r="1.95" fill="#FA6C64" fill-opacity="0.85"/>
<circle cx="120.35" cy="372" r="1.95" fill="#FA6C64" fill-opacity="0.85"/>
<circle cx="114.35" cy="390.96" r="1.95" fill="#FA6C64" fill-opacity="0.85"/>
<circle cx="119.35" cy="379.11" r="1.95" fill="#FA6C64" fill-opacity="0.85"/>
<circle cx="138.7" cy="335.98" r="1.95" fill="#FA6C64" fill-opacity="0.85"/>
<circle cx="141.7" cy="343.56" r="1.95" fill="#FA6C64" fill-opacity="0.85"/>
<circle cx="140.7" cy="360.62" r="1.95" fill="#FA6C64" fill-opacity="0.85"/>
<rect x="42.93" y="329.34" width="8.75" height="6.64" fill="none" stroke="#262626" stroke-width="1.2"/>
<line x1="42.93" y1="330.29" x2="51.68" y2="330.29" stroke="#222222" stroke-width="1.6" />
<rect x="54.6" y="348.3" width="8.75" height="14.69" fill="none" stroke="#262626" stroke-width="1.2"/>
<line x1="54.6" y1="354.94" x2="63.35" y2="354.94" stroke="#222222" stroke-width="1.6" />
<rect x="66.28" y="381.48" width="8.75" height="9.34" fill="none" stroke="#262626" stroke-width="1.2"/>
<line x1="66.28" y1="388.87" x2="75.03" y2="388.87" stroke="#222222" stroke-width="1.6" />
<rect x="77.95" y="339.77" width="8.75" height="8.53" fill="none" stroke="#262626" stroke-width="1.2"/>
<line x1="77.95" y1="341.9" x2="86.7" y2="341.9" stroke="#222222" stroke-width="1.6" />
<rect x="89.62" y="394.42" width="8.75" height="9.86" fill="none" stroke="#262626" stroke-width="1.2"/>
<line x1="89.62" y1="400.3" x2="98.38" y2="400.3" stroke="#222222" stroke-width="1.6" />
<rect x="101.3" y="304.69" width="8.75" height="74.89" fill="none" stroke="#262626" stroke-width="1.2"/>
<line x1="101.3" y1="355.88" x2="110.05" y2="355.88" stroke="#222222" stroke-width="1.6" />
<rect x="112.97" y="371.05" width="8.75" height="10.43" fill="none" stroke="#262626" stroke-width="1.2"/>
<line x1="112.97" y1="375.32" x2="121.72" y2="375.32" stroke="#222222" stroke-width="1.6" />
<rect x="124.65" y="405.65" width="8.75" height="0.5" fill="none" stroke="#262626" stroke-width="1.2"/>
<line x1="124.65" y1="405.65" x2="133.4" y2="405.65" stroke="#222222" stroke-width="1.6" />
<rect x="136.32" y="336.92" width="8.75" height="10.9" fill="none" stroke="#262626" stroke-width="1.2"/>
<line x1="136.32" y1="341.19" x2="145.07" y2="341.19" stroke="#222222" stroke-width="1.6" />
<rect x="162" y="230.2" width="107.6" height="15.8" fill="#D9D9D9" />
<text x="215.8" y="241.7" font-size="8.3" fill="#1A1A1A" stroke="#1A1A1A" stroke-width="0.12" text-anchor="middle" font-weight="normal" >Shannon</text>
<rect x="162" y="246" width="107.6" height="172.5" fill="#EBEBEB" />
<line x1="162" y1="388.42" x2="269.6" y2="388.42" stroke="#FFFFFF" stroke-width="0.55" />
<line x1="162" y1="340.25" x2="269.6" y2="340.25" stroke="#FFFFFF" stroke-width="0.55" />
<line x1="162" y1="292.07" x2="269.6" y2="292.07" stroke="#FFFFFF" stroke-width="0.55" />
<line x1="162" y1="412.5" x2="269.6" y2="412.5" stroke="#FFFFFF" stroke-width="1.0" />
<line x1="162" y1="364.33" x2="269.6" y2="364.33" stroke="#FFFFFF" stroke-width="1.0" />
<line x1="162" y1="316.16" x2="269.6" y2="316.16" stroke="#FFFFFF" stroke-width="1.0" />
<line x1="162" y1="267.99" x2="269.6" y2="267.99" stroke="#FFFFFF" stroke-width="1.0" />
<line x1="169.02" y1="246" x2="169.02" y2="418.5" stroke="#FFFFFF" stroke-width="1.0" />
<line x1="180.71" y1="246" x2="180.71" y2="418.5" stroke="#FFFFFF" stroke-width="1.0" />
<line x1="192.41" y1="246" x2="192.41" y2="418.5" stroke="#FFFFFF" stroke-width="1.0" />
<line x1="204.1" y1="246" x2="204.1" y2="418.5" stroke="#FFFFFF" stroke-width="1.0" />
<line x1="215.8" y1="246" x2="215.8" y2="418.5" stroke="#FFFFFF" stroke-width="1.0" />
<line x1="227.5" y1="246" x2="227.5" y2="418.5" stroke="#FFFFFF" stroke-width="1.0" />
<line x1="239.19" y1="246" x2="239.19" y2="418.5" stroke="#FFFFFF" stroke-width="1.0" />
<line x1="250.89" y1="246" x2="250.89" y2="418.5" stroke="#FFFFFF" stroke-width="1.0" />
<line x1="262.58" y1="246" x2="262.58" y2="418.5" stroke="#FFFFFF" stroke-width="1.0" />
<line x1="159.4" y1="412.5" x2="162" y2="412.5" stroke="#333333" stroke-width="1.0" />
<text x="157.3" y="416.1" font-size="8.3" fill="#4D4D4D" stroke="#4D4D4D" stroke-width="0.12" text-anchor="end" font-weight="normal" >0</text>
<line x1="159.4" y1="364.33" x2="162" y2="364.33" stroke="#333333" stroke-width="1.0" />
<text x="157.3" y="367.93" font-size="8.3" fill="#4D4D4D" stroke="#4D4D4D" stroke-width="0.12" text-anchor="end" font-weight="normal" >1</text>
<line x1="159.4" y1="316.16" x2="162" y2="316.16" stroke="#333333" stroke-width="1.0" />
<text x="157.3" y="319.76" font-size="8.3" fill="#4D4D4D" stroke="#4D4D4D" stroke-width="0.12" text-anchor="end" font-weight="normal" >2</text>
<line x1="159.4" y1="267.99" x2="162" y2="267.99" stroke="#333333" stroke-width="1.0" />
<text x="157.3" y="271.59" font-size="8.3" fill="#4D4D4D" stroke="#4D4D4D" stroke-width="0.12" text-anchor="end" font-weight="normal" >3</text>
<line x1="169.02" y1="418.5" x2="169.02" y2="421.1" stroke="#333333" stroke-width="1.0" />
<text x="0" y="0" font-size="8.3" fill="#4D4D4D" text-anchor="middle" transform="translate(172.02,426.2) rotate(-90)">1</text>
<line x1="180.71" y1="418.5" x2="180.71" y2="421.1" stroke="#333333" stroke-width="1.0" />
<text x="0" y="0" font-size="8.3" fill="#4D4D4D" text-anchor="middle" transform="translate(183.71,426.2) rotate(-90)">2</text>
<line x1="192.41" y1="418.5" x2="192.41" y2="421.1" stroke="#333333" stroke-width="1.0" />
<text x="0" y="0" font-size="8.3" fill="#4D4D4D" text-anchor="middle" transform="translate(195.41,426.2) rotate(-90)">3</text>
<line x1="204.1" y1="418.5" x2="204.1" y2="421.1" stroke="#333333" stroke-width="1.0" />
<text x="0" y="0" font-size="8.3" fill="#4D4D4D" text-anchor="middle" transform="translate(207.1,426.2) rotate(-90)">4</text>
<line x1="215.8" y1="418.5" x2="215.8" y2="421.1" stroke="#333333" stroke-width="1.0" />
<text x="0" y="0" font-size="8.3" fill="#4D4D4D" text-anchor="middle" transform="translate(218.8,426.2) rotate(-90)">5</text>
<line x1="227.5" y1="418.5" x2="227.5" y2="421.1" stroke="#333333" stroke-width="1.0" />
<text x="0" y="0" font-size="8.3" fill="#4D4D4D" text-anchor="middle" transform="translate(230.5,426.2) rotate(-90)">6</text>
<line x1="239.19" y1="418.5" x2="239.19" y2="421.1" stroke="#333333" stroke-width="1.0" />
<text x="0" y="0" font-size="8.3" fill="#4D4D4D" text-anchor="middle" transform="translate(242.19,426.2) rotate(-90)">7</text>
<line x1="250.89" y1="418.5" x2="250.89" y2="421.1" stroke="#333333" stroke-width="1.0" />
<text x="0" y="0" font-size="8.3" fill="#4D4D4D" text-anchor="middle" transform="translate(253.89,426.2) rotate(-90)">8</text>
<line x1="262.58" y1="418.5" x2="262.58" y2="421.1" stroke="#333333" stroke-width="1.0" />
<text x="0" y="0" font-size="8.3" fill="#4D4D4D" text-anchor="middle" transform="translate(265.58,426.2) rotate(-90)">9</text>
<line x1="169.02" y1="296.89" x2="169.02" y2="294" stroke="#2b2b2b" stroke-width="1.2" />
<line x1="169.02" y1="284.37" x2="169.02" y2="282.44" stroke="#2b2b2b" stroke-width="1.2" />
<rect x="164.64" y="284.37" width="8.75" height="9.63" fill="#00D0D4"/>
<line x1="180.71" y1="376.37" x2="180.71" y2="370.59" stroke="#2b2b2b" stroke-width="1.2" />
<line x1="180.71" y1="357.59" x2="180.71" y2="346.03" stroke="#2b2b2b" stroke-width="1.2" />
<rect x="176.34" y="357.59" width="8.75" height="13.01" fill="#00D0D4"/>
<line x1="192.41" y1="403.83" x2="192.41" y2="402.87" stroke="#2b2b2b" stroke-width="1.2" />
<line x1="192.41" y1="397.09" x2="192.41" y2="392.27" stroke="#2b2b2b" stroke-width="1.2" />
<rect x="188.03" y="397.09" width="8.75" height="5.78" fill="#00D0D4"/>
<line x1="204.1" y1="339.28" x2="204.1" y2="328.2" stroke="#2b2b2b" stroke-width="1.2" />
<line x1="204.1" y1="311.82" x2="204.1" y2="307.49" stroke="#2b2b2b" stroke-width="1.2" />
<rect x="199.73" y="311.82" width="8.75" height="16.38" fill="#00D0D4"/>
<line x1="215.8" y1="409.61" x2="215.8" y2="408.65" stroke="#2b2b2b" stroke-width="1.2" />
<line x1="215.8" y1="404.79" x2="215.8" y2="399.49" stroke="#2b2b2b" stroke-width="1.2" />
<rect x="211.43" y="404.79" width="8.75" height="3.85" fill="#00D0D4"/>
<line x1="227.5" y1="396.6" x2="227.5" y2="383.6" stroke="#2b2b2b" stroke-width="1.2" />
<line x1="227.5" y1="312.31" x2="227.5" y2="253.54" stroke="#2b2b2b" stroke-width="1.2" />
<rect x="223.12" y="312.31" width="8.75" height="71.29" fill="#00D0D4"/>
<line x1="239.19" y1="393.71" x2="239.19" y2="387.93" stroke="#2b2b2b" stroke-width="1.2" />
<line x1="239.19" y1="366.26" x2="239.19" y2="347.47" stroke="#2b2b2b" stroke-width="1.2" />
<rect x="234.82" y="366.26" width="8.75" height="21.68" fill="#00D0D4"/>
<line x1="250.89" y1="404.79" x2="250.89" y2="404.79" stroke="#2b2b2b" stroke-width="1.2" />
<line x1="250.89" y1="404.79" x2="250.89" y2="404.79" stroke="#2b2b2b" stroke-width="1.2" />
<rect x="246.51" y="404.79" width="8.75" height="0.5" fill="#00D0D4"/>
<line x1="262.58" y1="367.7" x2="262.58" y2="366.74" stroke="#2b2b2b" stroke-width="1.2" />
<line x1="262.58" y1="340.73" x2="262.58" y2="327.24" stroke="#2b2b2b" stroke-width="1.2" />
<rect x="258.21" y="340.73" width="8.75" height="26.01" fill="#00D0D4"/>
<circle cx="169.02" cy="271.84" r="1.95" fill="#14C6CC" fill-opacity="0.85"/>
<circle cx="166.02" cy="292.07" r="1.95" fill="#14C6CC" fill-opacity="0.85"/>
<circle cx="172.02" cy="287.26" r="1.95" fill="#14C6CC" fill-opacity="0.85"/>
<circle cx="168.02" cy="296.89" r="1.95" fill="#14C6CC" fill-opacity="0.85"/>
<circle cx="167.02" cy="317.61" r="1.95" fill="#14C6CC" fill-opacity="0.85"/>
<circle cx="176.71" cy="329.17" r="1.95" fill="#14C6CC" fill-opacity="0.85"/>
<circle cx="177.71" cy="346.03" r="1.95" fill="#14C6CC" fill-opacity="0.85"/>
<circle cx="183.71" cy="349.88" r="1.95" fill="#14C6CC" fill-opacity="0.85"/>
<circle cx="176.71" cy="369.15" r="1.95" fill="#14C6CC" fill-opacity="0.85"/>
<circle cx="182.71" cy="373.96" r="1.95" fill="#14C6CC" fill-opacity="0.85"/>
<circle cx="178.71" cy="390.82" r="1.95" fill="#14C6CC" fill-opacity="0.85"/>
<circle cx="184.71" cy="361.92" r="1.95" fill="#14C6CC" fill-opacity="0.85"/>
<circle cx="179.71" cy="374.93" r="1.95" fill="#14C6CC" fill-opacity="0.85"/>
<circle cx="187.41" cy="359.51" r="1.95" fill="#14C6CC" fill-opacity="0.85"/>
<circle cx="189.41" cy="364.33" r="1.95" fill="#14C6CC" fill-opacity="0.85"/>
<circle cx="188.41" cy="369.15" r="1.95" fill="#14C6CC" fill-opacity="0.85"/>
<circle cx="194.41" cy="373.96" r="1.95" fill="#14C6CC" fill-opacity="0.85"/>
<circle cx="190.41" cy="376.37" r="1.95" fill="#14C6CC" fill-opacity="0.85"/>
<circle cx="186.41" cy="383.6" r="1.95" fill="#14C6CC" fill-opacity="0.85"/>
<circle cx="189.41" cy="386.01" r="1.95" fill="#14C6CC" fill-opacity="0.85"/>
<circle cx="195.41" cy="395.64" r="1.95" fill="#14C6CC" fill-opacity="0.85"/>
<circle cx="188.41" cy="401.9" r="1.95" fill="#14C6CC" fill-opacity="0.85"/>
<circle cx="196.41" cy="402.87" r="1.95" fill="#14C6CC" fill-opacity="0.85"/>
<circle cx="194.41" cy="410.09" r="1.95" fill="#14C6CC" fill-opacity="0.85"/>
<circle cx="205.1" cy="307.01" r="1.95" fill="#14C6CC" fill-opacity="0.85"/>
<circle cx="203.1" cy="339.28" r="1.95" fill="#14C6CC" fill-opacity="0.85"/>
<circle cx="211.8" cy="382.63" r="1.95" fill="#14C6CC" fill-opacity="0.85"/>
<circle cx="212.8" cy="393.71" r="1.95" fill="#14C6CC" fill-opacity="0.85"/>
<circle cx="217.8" cy="395.64" r="1.95" fill="#14C6CC" fill-opacity="0.85"/>
<circle cx="211.8" cy="400.46" r="1.95" fill="#14C6CC" fill-opacity="0.85"/>
<circle cx="218.8" cy="402.87" r="1.95" fill="#14C6CC" fill-opacity="0.85"/>
<circle cx="213.8" cy="407.68" r="1.95" fill="#14C6CC" fill-opacity="0.85"/>
<circle cx="219.8" cy="410.09" r="1.95" fill="#14C6CC" fill-opacity="0.85"/>
<circle cx="215.8" cy="411.54" r="1.95" fill="#14C6CC" fill-opacity="0.85"/>
<circle cx="227.5" cy="253.54" r="1.95" fill="#14C6CC" fill-opacity="0.85"/>
<circle cx="225.5" cy="396.6" r="1.95" fill="#14C6CC" fill-opacity="0.85"/>
<circle cx="236.19" cy="393.71" r="1.95" fill="#14C6CC" fill-opacity="0.85"/>
<circle cx="243.19" cy="347.47" r="1.95" fill="#14C6CC" fill-opacity="0.85"/>
<circle cx="237.19" cy="386.01" r="1.95" fill="#14C6CC" fill-opacity="0.85"/>
<circle cx="259.58" cy="366.74" r="1.95" fill="#14C6CC" fill-opacity="0.85"/>
<circle cx="265.58" cy="367.7" r="1.95" fill="#14C6CC" fill-opacity="0.85"/>
<circle cx="264.58" cy="327.24" r="1.95" fill="#14C6CC" fill-opacity="0.85"/>
<rect x="164.64" y="284.37" width="8.75" height="9.63" fill="none" stroke="#262626" stroke-width="1.2"/>
<line x1="164.64" y1="289.67" x2="173.39" y2="289.67" stroke="#222222" stroke-width="1.6" />
<rect x="176.34" y="357.59" width="8.75" height="13.01" fill="none" stroke="#262626" stroke-width="1.2"/>
<line x1="176.34" y1="364.81" x2="185.09" y2="364.81" stroke="#222222" stroke-width="1.6" />
<rect x="188.03" y="397.09" width="8.75" height="5.78" fill="none" stroke="#262626" stroke-width="1.2"/>
<line x1="188.03" y1="399.01" x2="196.78" y2="399.01" stroke="#222222" stroke-width="1.6" />
<rect x="199.73" y="311.82" width="8.75" height="16.38" fill="none" stroke="#262626" stroke-width="1.2"/>
<line x1="199.73" y1="315.68" x2="208.48" y2="315.68" stroke="#222222" stroke-width="1.6" />
<rect x="211.43" y="404.79" width="8.75" height="3.85" fill="none" stroke="#262626" stroke-width="1.2"/>
<line x1="211.43" y1="406.48" x2="220.18" y2="406.48" stroke="#222222" stroke-width="1.6" />
<rect x="223.12" y="312.31" width="8.75" height="71.29" fill="none" stroke="#262626" stroke-width="1.2"/>
<line x1="223.12" y1="371.31" x2="231.87" y2="371.31" stroke="#222222" stroke-width="1.6" />
<rect x="234.82" y="366.26" width="8.75" height="21.68" fill="none" stroke="#262626" stroke-width="1.2"/>
<line x1="234.82" y1="379.26" x2="243.57" y2="379.26" stroke="#222222" stroke-width="1.6" />
<rect x="246.51" y="404.79" width="8.75" height="0.5" fill="none" stroke="#262626" stroke-width="1.2"/>
<line x1="246.51" y1="404.79" x2="255.26" y2="404.79" stroke="#222222" stroke-width="1.6" />
<rect x="258.21" y="340.73" width="8.75" height="26.01" fill="none" stroke="#262626" stroke-width="1.2"/>
<line x1="258.21" y1="346.03" x2="266.96" y2="346.03" stroke="#222222" stroke-width="1.6" />
<rect x="311.8" y="230.3" width="178.7" height="183.9" fill="#EBEBEB" />
<line x1="349.95" y1="230.3" x2="349.95" y2="414.2" stroke="#FFFFFF" stroke-width="0.55" />
<line x1="389.65" y1="230.3" x2="389.65" y2="414.2" stroke="#FFFFFF" stroke-width="0.55" />
<line x1="429.35" y1="230.3" x2="429.35" y2="414.2" stroke="#FFFFFF" stroke-width="0.55" />
<line x1="469.05" y1="230.3" x2="469.05" y2="414.2" stroke="#FFFFFF" stroke-width="0.55" />
<line x1="311.8" y1="243.7" x2="490.5" y2="243.7" stroke="#FFFFFF" stroke-width="0.55" />
<line x1="311.8" y1="282.9" x2="490.5" y2="282.9" stroke="#FFFFFF" stroke-width="0.55" />
<line x1="311.8" y1="322.1" x2="490.5" y2="322.1" stroke="#FFFFFF" stroke-width="0.55" />
<line x1="311.8" y1="361.3" x2="490.5" y2="361.3" stroke="#FFFFFF" stroke-width="0.55" />
<line x1="311.8" y1="400.5" x2="490.5" y2="400.5" stroke="#FFFFFF" stroke-width="0.55" />
<line x1="330.1" y1="230.3" x2="330.1" y2="414.2" stroke="#FFFFFF" stroke-width="1.0" />
<line x1="330.1" y1="414.2" x2="330.1" y2="416.8" stroke="#333333" stroke-width="1.0" />
<text x="330.1" y="425.6" font-size="8.3" fill="#4D4D4D" stroke="#4D4D4D" stroke-width="0.12" text-anchor="middle" font-weight="normal" >-0.2</text>
<line x1="369.8" y1="230.3" x2="369.8" y2="414.2" stroke="#FFFFFF" stroke-width="1.0" />
<line x1="369.8" y1="414.2" x2="369.8" y2="416.8" stroke="#333333" stroke-width="1.0" />
<text x="369.8" y="425.6" font-size="8.3" fill="#4D4D4D" stroke="#4D4D4D" stroke-width="0.12" text-anchor="middle" font-weight="normal" >0.0</text>
<line x1="409.5" y1="230.3" x2="409.5" y2="414.2" stroke="#FFFFFF" stroke-width="1.0" />
<line x1="409.5" y1="414.2" x2="409.5" y2="416.8" stroke="#333333" stroke-width="1.0" />
<text x="409.5" y="425.6" font-size="8.3" fill="#4D4D4D" stroke="#4D4D4D" stroke-width="0.12" text-anchor="middle" font-weight="normal" >0.2</text>
<line x1="449.2" y1="230.3" x2="449.2" y2="414.2" stroke="#FFFFFF" stroke-width="1.0" />
<line x1="449.2" y1="414.2" x2="449.2" y2="416.8" stroke="#333333" stroke-width="1.0" />
<text x="449.2" y="425.6" font-size="8.3" fill="#4D4D4D" stroke="#4D4D4D" stroke-width="0.12" text-anchor="middle" font-weight="normal" >0.4</text>
<line x1="488.9" y1="230.3" x2="488.9" y2="414.2" stroke="#FFFFFF" stroke-width="1.0" />
<line x1="488.9" y1="414.2" x2="488.9" y2="416.8" stroke="#333333" stroke-width="1.0" />
<text x="488.9" y="425.6" font-size="8.3" fill="#4D4D4D" stroke="#4D4D4D" stroke-width="0.12" text-anchor="middle" font-weight="normal" >0.6</text>
<line x1="311.8" y1="263.3" x2="490.5" y2="263.3" stroke="#FFFFFF" stroke-width="1.0" />
<line x1="309.2" y1="263.3" x2="311.8" y2="263.3" stroke="#333333" stroke-width="1.0" />
<text x="307.1" y="266.9" font-size="8.3" fill="#4D4D4D" stroke="#4D4D4D" stroke-width="0.12" text-anchor="end" font-weight="normal" >0.2</text>
<line x1="311.8" y1="302.5" x2="490.5" y2="302.5" stroke="#FFFFFF" stroke-width="1.0" />
<line x1="309.2" y1="302.5" x2="311.8" y2="302.5" stroke="#333333" stroke-width="1.0" />
<text x="307.1" y="306.1" font-size="8.3" fill="#4D4D4D" stroke="#4D4D4D" stroke-width="0.12" text-anchor="end" font-weight="normal" >0.0</text>
<line x1="311.8" y1="341.7" x2="490.5" y2="341.7" stroke="#FFFFFF" stroke-width="1.0" />
<line x1="309.2" y1="341.7" x2="311.8" y2="341.7" stroke="#333333" stroke-width="1.0" />
<text x="307.1" y="345.3" font-size="8.3" fill="#4D4D4D" stroke="#4D4D4D" stroke-width="0.12" text-anchor="end" font-weight="normal" >-0.2</text>
<line x1="311.8" y1="380.9" x2="490.5" y2="380.9" stroke="#FFFFFF" stroke-width="1.0" />
<line x1="309.2" y1="380.9" x2="311.8" y2="380.9" stroke="#333333" stroke-width="1.0" />
<text x="307.1" y="384.5" font-size="8.3" fill="#4D4D4D" stroke="#4D4D4D" stroke-width="0.12" text-anchor="end" font-weight="normal" >-0.4</text>
<text x="401.65" y="439.5" font-size="10.4" fill="#000000" stroke="#000000" stroke-width="0.12" text-anchor="middle" font-weight="normal" xml:space="preserve">Axis.1   [42.4%]</text>
<text x="0" y="0" font-size="10.4" fill="#000000" text-anchor="middle" xml:space="preserve" transform="translate(289.4,321.5) rotate(-90)">Axis.2   [12%]</text>
<circle cx="461.3" cy="342.3" r="2.0" fill="#FA6E68" fill-opacity="1.0"/>
<circle cx="463.8" cy="373.9" r="2.0" fill="#FA6E68" fill-opacity="1.0"/>
<circle cx="482.9" cy="384.9" r="2.0" fill="#FA6E68" fill-opacity="1.0"/>
<circle cx="469" cy="389.6" r="2.0" fill="#FA6E68" fill-opacity="1.0"/>
<circle cx="482.2" cy="389.8" r="2.0" fill="#FA6E68" fill-opacity="1.0"/>
<circle cx="476" cy="395" r="2.0" fill="#FA6E68" fill-opacity="1.0"/>
<circle cx="481.1" cy="395.3" r="2.0" fill="#FA6E68" fill-opacity="1.0"/>
<circle cx="483.2" cy="395.3" r="2.0" fill="#FA6E68" fill-opacity="1.0"/>
<circle cx="481.9" cy="406.7" r="2.0" fill="#FA6E68" fill-opacity="1.0"/>
<circle cx="398.6" cy="251.1" r="2.0" fill="#E28A00" fill-opacity="1.0"/>
<circle cx="385.5" cy="256.2" r="2.0" fill="#E28A00" fill-opacity="1.0"/>
<circle cx="369.4" cy="264.2" r="2.0" fill="#E28A00" fill-opacity="1.0"/>
<circle cx="358.5" cy="270.7" r="2.0" fill="#E28A00" fill-opacity="1.0"/>
<circle cx="348.2" cy="279.3" r="2.0" fill="#E28A00" fill-opacity="1.0"/>
<circle cx="350.3" cy="282.3" r="2.0" fill="#E28A00" fill-opacity="1.0"/>
<circle cx="381.9" cy="276.7" r="2.0" fill="#E28A00" fill-opacity="1.0"/>
<circle cx="398.6" cy="284" r="2.0" fill="#E28A00" fill-opacity="1.0"/>
<circle cx="408.9" cy="245" r="2.0" fill="#E28A00" fill-opacity="1.0"/>
<circle cx="417.4" cy="248.3" r="2.0" fill="#E28A00" fill-opacity="1.0"/>
<circle cx="425.2" cy="249.7" r="2.0" fill="#E28A00" fill-opacity="1.0"/>
<circle cx="433.4" cy="243" r="2.0" fill="#E28A00" fill-opacity="1.0"/>
<circle cx="473" cy="257.5" r="2.0" fill="#E28A00" fill-opacity="1.0"/>
<circle cx="355.3" cy="273.9" r="2.0" fill="#8DAA00" fill-opacity="1.0"/>
<circle cx="351.9" cy="277.7" r="2.0" fill="#8DAA00" fill-opacity="1.0"/>
<circle cx="378.4" cy="278.7" r="2.0" fill="#8DAA00" fill-opacity="1.0"/>
<circle cx="346.8" cy="285.8" r="2.0" fill="#8DAA00" fill-opacity="1.0"/>
<circle cx="344" cy="290.6" r="2.0" fill="#8DAA00" fill-opacity="1.0"/>
<circle cx="341.8" cy="292.9" r="2.0" fill="#8DAA00" fill-opacity="1.0"/>
<circle cx="339.5" cy="294.5" r="2.0" fill="#8DAA00" fill-opacity="1.0"/>
<circle cx="337.8" cy="296.2" r="2.0" fill="#8DAA00" fill-opacity="1.0"/>
<circle cx="336.2" cy="297.9" r="2.0" fill="#8DAA00" fill-opacity="1.0"/>
<circle cx="335" cy="299.6" r="2.0" fill="#8DAA00" fill-opacity="1.0"/>
<circle cx="336.7" cy="301.3" r="2.0" fill="#8DAA00" fill-opacity="1.0"/>
<circle cx="339" cy="299.6" r="2.0" fill="#8DAA00" fill-opacity="1.0"/>
<circle cx="340.6" cy="295.7" r="2.0" fill="#8DAA00" fill-opacity="1.0"/>
<circle cx="335.6" cy="301.8" r="2.0" fill="#8DAA00" fill-opacity="1.0"/>
<circle cx="329.5" cy="307.4" r="2.0" fill="#8DAA00" fill-opacity="1.0"/>
<circle cx="332.8" cy="307.4" r="2.0" fill="#8DAA00" fill-opacity="1.0"/>
<circle cx="336.2" cy="309.6" r="2.0" fill="#8DAA00" fill-opacity="1.0"/>
<circle cx="339.9" cy="306.8" r="2.0" fill="#8DAA00" fill-opacity="1.0"/>
<circle cx="370.8" cy="286" r="2.0" fill="#00BC34" fill-opacity="1.0"/>
<circle cx="391.1" cy="281.7" r="2.0" fill="#00BC34" fill-opacity="1.0"/>
<circle cx="358.7" cy="295.8" r="2.0" fill="#00BC34" fill-opacity="1.0"/>
<circle cx="361.3" cy="294.8" r="2.0" fill="#00BC34" fill-opacity="1.0"/>
<circle cx="343.4" cy="304" r="2.0" fill="#00BC34" fill-opacity="1.0"/>
<circle cx="404.6" cy="269.4" r="2.0" fill="#00BC34" fill-opacity="1.0"/>
<circle cx="332.8" cy="300.4" r="2.0" fill="#00C4A4" fill-opacity="1.0"/>
<circle cx="332.8" cy="308.9" r="2.0" fill="#00C4A4" fill-opacity="1.0"/>
<circle cx="324.4" cy="306.3" r="2.0" fill="#00C4A4" fill-opacity="1.0"/>
<circle cx="326.7" cy="305.7" r="2.0" fill="#00C4A4" fill-opacity="1.0"/>
<circle cx="327.8" cy="310.8" r="2.0" fill="#00C4A4" fill-opacity="1.0"/>
<circle cx="326.7" cy="313.6" r="2.0" fill="#00C4A4" fill-opacity="1.0"/>
<circle cx="323.3" cy="311.3" r="2.0" fill="#00C4A4" fill-opacity="1.0"/>
<circle cx="321.6" cy="313.6" r="2.0" fill="#00C4A4" fill-opacity="1.0"/>
<circle cx="320" cy="315.8" r="2.0" fill="#00C4A4" fill-opacity="1.0"/>
<circle cx="322.2" cy="315.8" r="2.0" fill="#00C4A4" fill-opacity="1.0"/>
<circle cx="325" cy="314.1" r="2.0" fill="#00C4A4" fill-opacity="1.0"/>
<circle cx="320.5" cy="317.5" r="2.0" fill="#00C4A4" fill-opacity="1.0"/>
<circle cx="327.8" cy="313" r="2.0" fill="#00C4A4" fill-opacity="1.0"/>
<circle cx="421.3" cy="288.9" r="2.0" fill="#00BBEA" fill-opacity="1.0"/>
<circle cx="464.6" cy="287.5" r="2.0" fill="#00BBEA" fill-opacity="1.0"/>
<circle cx="463.1" cy="291.3" r="2.0" fill="#00BBEA" fill-opacity="1.0"/>
<circle cx="472.1" cy="289.1" r="2.0" fill="#00BBEA" fill-opacity="1.0"/>
<circle cx="470.4" cy="296" r="2.0" fill="#00BBEA" fill-opacity="1.0"/>
<circle cx="447.7" cy="305.4" r="2.0" fill="#00BBEA" fill-opacity="1.0"/>
<circle cx="451" cy="316.3" r="2.0" fill="#00BBEA" fill-opacity="1.0"/>
<circle cx="451.8" cy="319.9" r="2.0" fill="#00BBEA" fill-opacity="1.0"/>
<circle cx="451.5" cy="276" r="2.0" fill="#00BBEA" fill-opacity="1.0"/>
<circle cx="385.1" cy="264.6" r="2.0" fill="#4A97FF" fill-opacity="1.0"/>
<circle cx="445.2" cy="249.2" r="2.0" fill="#4A97FF" fill-opacity="1.0"/>
<circle cx="467.2" cy="253.1" r="2.0" fill="#4A97FF" fill-opacity="1.0"/>
<circle cx="463.6" cy="261.3" r="2.0" fill="#4A97FF" fill-opacity="1.0"/>
<circle cx="465.2" cy="274.3" r="2.0" fill="#4A97FF" fill-opacity="1.0"/>
<circle cx="456.5" cy="290.2" r="2.0" fill="#4A97FF" fill-opacity="1.0"/>
<circle cx="463.4" cy="309" r="2.0" fill="#DF6EFC" fill-opacity="1.0"/>
<circle cx="456" cy="329.6" r="2.0" fill="#DF6EFC" fill-opacity="1.0"/>
<circle cx="480.7" cy="238.3" r="2.0" fill="#FF5CC4" fill-opacity="1.0"/>
<circle cx="439.7" cy="262.9" r="2.0" fill="#FF5CC4" fill-opacity="1.0"/>
<circle cx="472.3" cy="262" r="2.0" fill="#FF5CC4" fill-opacity="1.0"/>
<circle cx="479" cy="262.2" r="2.0" fill="#FF5CC4" fill-opacity="1.0"/>
<circle cx="475.4" cy="270.7" r="2.0" fill="#FF5CC4" fill-opacity="1.0"/>
<text x="507" y="251.3" font-size="10.4" fill="#000000" stroke="#000000" stroke-width="0.12" text-anchor="start" font-weight="normal" >Group</text>
<rect x="507.4" y="256.6" width="15.4" height="146.3" fill="#F2F2F2" />
<circle cx="515.1" cy="265" r="1.9" fill="#FA6E68" fill-opacity="1.0"/>
<text x="528.5" y="268.2" font-size="8.3" fill="#000000" stroke="#000000" stroke-width="0.12" text-anchor="start" font-weight="normal" >1</text>
<circle cx="515.1" cy="281.25" r="1.9" fill="#E28A00" fill-opacity="1.0"/>
<text x="528.5" y="284.45" font-size="8.3" fill="#000000" stroke="#000000" stroke-width="0.12" text-anchor="start" font-weight="normal" >2</text>
<circle cx="515.1" cy="297.5" r="1.9" fill="#8DAA00" fill-opacity="1.0"/>
<text x="528.5" y="300.7" font-size="8.3" fill="#000000" stroke="#000000" stroke-width="0.12" text-anchor="start" font-weight="normal" >3</text>
<circle cx="515.1" cy="313.75" r="1.9" fill="#00BC34" fill-opacity="1.0"/>
<text x="528.5" y="316.95" font-size="8.3" fill="#000000" stroke="#000000" stroke-width="0.12" text-anchor="start" font-weight="normal" >4</text>
<circle cx="515.1" cy="330" r="1.9" fill="#00C4A4" fill-opacity="1.0"/>
<text x="528.5" y="333.2" font-size="8.3" fill="#000000" stroke="#000000" stroke-width="0.12" text-anchor="start" font-weight="normal" >5</text>
<circle cx="515.1" cy="346.25" r="1.9" fill="#00BBEA" fill-opacity="1.0"/>
<text x="528.5" y="349.45" font-size="8.3" fill="#000000" stroke="#000000" stroke-width="0.12" text-anchor="start" font-weight="normal" >6</text>
<circle cx="515.1" cy="362.5" r="1.9" fill="#4A97FF" fill-opacity="1.0"/>
<text x="528.5" y="365.7" font-size="8.3" fill="#000000" stroke="#000000" stroke-width="0.12" text-anchor="start" font-weight="normal" >7</text>
<circle cx="515.1" cy="378.75" r="1.9" fill="#DF6EFC" fill-opacity="1.0"/>
<text x="528.5" y="381.95" font-size="8.3" fill="#000000" stroke="#000000" stroke-width="0.12" text-anchor="start" font-weight="normal" >8</text>
<circle cx="515.1" cy="395" r="1.9" fill="#FF5CC4" fill-opacity="1.0"/>
<text x="528.5" y="398.2" font-size="8.3" fill="#000000" stroke="#000000" stroke-width="0.12" text-anchor="start" font-weight="normal" >9</text>
</g></svg></body></html>
